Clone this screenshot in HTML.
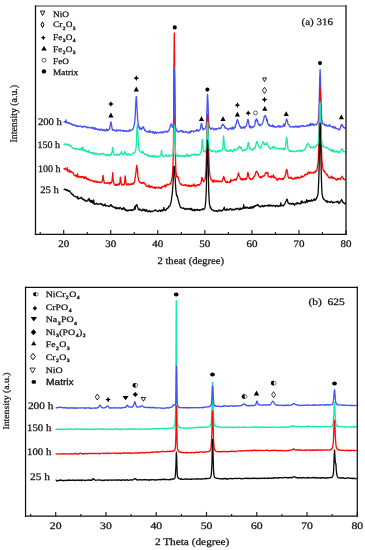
<!DOCTYPE html>
<html><head><meta charset="utf-8">
<style>
html,body{margin:0;padding:0;background:#fff;overflow:hidden;}
svg{display:block;}
text{font-family:"Liberation Serif","Times New Roman",serif;fill:#111;text-rendering:geometricPrecision;stroke:#111;stroke-width:0.25px;}
.leg{font-size:8.3px;}
.legb{font-size:8.4px;}
.sub{font-size:4.9px;stroke-width:0.35px;}
.legs{font-family:"Liberation Sans",Arial,sans-serif;font-size:9.0px;stroke-width:0.3px;}
.lab{font-size:10px;}
.tk{font-size:10px;}
.pl{font-size:9.8px;}
.cl{font-size:10px;}
</style></head>
<body>
<svg width="365" height="550" viewBox="0 0 365 550">
<rect width="365" height="550" fill="#fff"/>
<g id="curves">
<defs><clipPath id="clipov"><rect x="160" y="60" width="30" height="65"/></clipPath></defs><polyline fill="none" stroke="#4652f6" stroke-width="1.3" stroke-linejoin="round" points="63.7,121.67 64.0,122.12 64.4,121.61 64.7,121.93 65.0,121.61 65.4,121.46 65.7,122.61 66.0,119.84 66.3,122.57 66.7,121.93 67.0,122.39 67.3,122.56 67.7,123.18 68.0,123.13 68.3,122.49 68.7,122.78 69.0,122.72 69.3,123.18 69.6,123.71 70.0,123.11 70.3,123.42 70.6,123.83 71.0,124.16 71.3,123.80 71.6,124.34 72.0,124.37 72.3,124.87 72.6,124.69 73.0,124.78 73.3,124.50 73.6,125.46 73.9,125.10 74.3,125.28 74.6,125.38 74.9,124.96 75.3,125.09 75.6,125.76 75.9,126.14 76.3,125.98 76.6,126.20 76.9,125.70 77.2,126.62 77.6,126.60 77.9,125.77 78.2,125.95 78.6,126.29 78.9,126.08 79.2,126.18 79.6,126.10 79.9,126.61 80.2,126.75 80.5,126.24 80.9,126.24 81.2,126.38 81.5,126.25 81.9,126.48 82.2,126.68 82.5,127.42 82.9,126.38 83.2,126.80 83.5,126.54 83.9,126.78 84.2,126.16 84.5,126.41 84.8,126.43 85.2,126.99 85.5,126.47 85.8,126.77 86.2,127.01 86.5,127.33 86.8,127.38 87.2,127.62 87.5,127.81 87.8,127.29 88.1,126.93 88.5,127.44 88.8,127.66 89.1,127.87 89.5,127.92 89.8,127.96 90.1,127.71 90.5,127.36 90.8,127.71 91.1,127.90 91.5,127.53 91.8,127.76 92.1,127.44 92.4,128.38 92.8,127.82 93.1,128.01 93.4,128.92 93.8,128.13 94.1,127.64 94.4,127.95 94.8,129.08 95.1,129.27 95.4,128.03 95.7,128.96 96.1,129.02 96.4,128.76 96.7,129.12 97.1,129.35 97.4,129.48 97.7,129.71 98.1,128.74 98.4,129.45 98.7,129.60 99.0,129.97 99.4,130.05 99.7,129.54 100.0,129.96 100.4,130.25 100.7,129.81 101.0,128.92 101.4,129.26 101.7,129.88 102.0,129.76 102.4,129.75 102.7,130.58 103.0,130.23 103.3,130.40 103.7,130.13 104.0,129.31 104.3,130.27 104.7,130.30 105.0,130.96 105.3,130.85 105.7,130.20 106.0,129.69 106.3,130.24 106.6,128.90 107.0,130.66 107.3,130.42 107.6,130.72 108.0,129.89 108.3,129.53 108.6,129.87 109.0,129.57 109.3,129.44 109.6,128.60 110.0,126.22 110.3,124.35 110.6,122.53 110.9,121.89 111.3,123.65 111.6,125.36 111.9,127.87 112.3,129.98 112.6,129.43 112.9,129.77 113.3,130.36 113.6,130.12 113.9,129.66 114.2,129.78 114.6,130.17 114.9,130.60 115.2,130.97 115.6,131.11 115.9,131.29 116.2,130.59 116.6,129.72 116.9,130.53 117.2,130.79 117.5,130.68 117.9,130.12 118.2,130.12 118.5,130.33 118.9,130.80 119.2,130.61 119.5,130.15 119.9,130.41 120.2,130.01 120.5,130.95 120.9,130.77 121.2,130.34 121.5,130.41 121.8,130.22 122.2,130.45 122.5,130.61 122.8,131.22 123.2,131.38 123.5,130.27 123.8,130.81 124.2,131.39 124.5,131.13 124.8,130.91 125.1,130.76 125.5,130.49 125.8,131.24 126.1,131.46 126.5,131.14 126.8,131.26 127.1,130.72 127.5,131.08 127.8,131.10 128.1,131.49 128.5,131.42 128.8,130.55 129.1,130.56 129.4,129.81 129.8,129.82 130.1,131.02 130.4,130.81 130.8,130.34 131.1,130.19 131.4,130.23 131.8,130.01 132.1,129.51 132.4,129.60 132.7,129.18 133.1,128.88 133.4,128.12 133.7,126.63 134.1,125.79 134.4,124.29 134.7,121.70 135.1,117.41 135.4,111.63 135.7,105.13 136.1,96.99 136.4,96.60 136.7,101.39 137.0,108.26 137.4,115.30 137.7,119.90 138.0,123.11 138.4,125.47 138.7,127.19 139.0,127.95 139.4,126.97 139.7,128.45 140.0,129.31 140.3,128.92 140.7,128.01 141.0,128.71 141.3,129.53 141.7,128.77 142.0,127.84 142.3,128.42 142.7,128.03 143.0,126.93 143.3,127.53 143.6,126.77 144.0,128.61 144.3,128.98 144.6,130.38 145.0,130.00 145.3,129.90 145.6,131.10 146.0,131.17 146.3,131.39 146.6,131.46 147.0,131.55 147.3,132.08 147.6,131.79 147.9,131.97 148.3,131.46 148.6,131.57 148.9,132.39 149.3,132.15 149.6,130.33 149.9,132.01 150.3,131.94 150.6,131.45 150.9,131.84 151.2,131.57 151.6,132.17 151.9,132.08 152.2,132.80 152.6,131.49 152.9,132.43 153.2,132.56 153.6,131.83 153.9,132.79 154.2,133.68 154.6,133.03 154.9,132.40 155.2,132.78 155.5,131.79 155.9,132.20 156.2,133.31 156.5,132.96 156.9,132.59 157.2,132.44 157.5,132.49 157.9,132.69 158.2,132.51 158.5,132.84 158.8,132.98 159.2,132.44 159.5,132.66 159.8,132.46 160.2,132.78 160.5,132.19 160.8,132.25 161.2,131.96 161.5,132.29 161.8,132.12 162.1,131.77 162.5,132.93 162.8,132.67 163.1,132.80 163.5,132.72 163.8,132.09 164.1,131.53 164.5,131.43 164.8,131.68 165.1,131.82 165.5,131.62 165.8,131.15 166.1,130.92 166.4,131.26 166.8,132.18 167.1,132.16 167.4,131.69 167.8,131.82 168.1,131.16 168.4,131.03 168.8,130.47 169.1,129.33 169.4,128.98 169.7,128.33 170.1,127.11 170.4,125.36 170.7,124.74 171.1,123.83 171.4,123.83 171.7,124.75 172.1,125.86 172.4,127.30 172.7,126.93 173.1,126.67 173.4,125.56 173.7,118.61 174.0,95.21 174.2,78.73 174.4,68.00 174.4,67.43 174.6,78.63 174.7,89.24 175.0,116.01 175.4,125.66 175.7,128.48 176.0,128.59 176.4,129.31 176.7,130.68 177.0,131.10 177.3,131.75 177.7,131.83 178.0,131.42 178.3,131.24 178.7,131.38 179.0,131.75 179.3,131.67 179.7,131.20 180.0,131.19 180.3,131.00 180.6,131.12 181.0,130.53 181.3,130.77 181.6,130.59 182.0,132.05 182.3,131.24 182.6,131.38 183.0,130.92 183.3,131.89 183.6,132.47 184.0,132.34 184.3,132.41 184.6,132.35 184.9,132.17 185.3,131.70 185.6,131.35 185.9,131.25 186.3,131.29 186.6,132.21 186.9,132.25 187.3,132.88 187.6,132.63 187.9,132.69 188.2,132.19 188.6,132.64 188.9,132.27 189.2,133.02 189.6,131.44 189.9,131.40 190.2,132.63 190.6,132.48 190.9,131.57 191.2,131.53 191.6,130.64 191.9,131.04 192.2,131.32 192.5,131.13 192.9,131.05 193.2,131.07 193.5,131.94 193.9,131.77 194.2,131.32 194.5,131.10 194.9,130.94 195.2,130.94 195.5,130.69 195.8,131.10 196.2,131.15 196.5,130.17 196.8,130.00 197.2,129.54 197.5,130.59 197.8,130.70 198.2,131.10 198.5,130.91 198.8,130.28 199.1,130.08 199.5,130.49 199.8,129.95 200.1,129.19 200.5,129.04 200.8,125.50 201.1,125.25 201.1,123.97 201.5,124.08 201.5,123.44 201.8,124.16 201.9,124.98 202.1,125.97 202.5,128.00 202.8,129.03 203.1,129.96 203.4,129.05 203.8,128.94 204.1,129.27 204.4,129.23 204.8,128.88 205.1,128.32 205.4,127.85 205.8,127.13 206.1,126.05 206.4,123.00 206.7,115.98 207.1,106.45 207.2,100.90 207.4,96.11 207.6,94.24 207.7,95.50 207.9,100.84 208.1,103.45 208.4,114.81 208.7,121.96 209.1,125.60 209.4,127.27 209.7,127.30 210.1,128.35 210.4,128.17 210.7,128.88 211.0,129.36 211.4,128.92 211.7,128.15 212.0,128.42 212.4,128.55 212.7,128.26 213.0,128.42 213.4,128.50 213.7,129.21 214.0,129.76 214.3,130.09 214.7,129.23 215.0,129.01 215.3,129.24 215.7,128.57 216.0,128.53 216.3,129.57 216.7,129.27 217.0,128.73 217.3,128.96 217.6,128.82 218.0,128.48 218.3,128.19 218.6,127.92 219.0,128.14 219.3,128.87 219.6,128.08 220.0,128.41 220.3,128.02 220.6,128.27 221.0,128.22 221.3,127.47 221.6,126.30 221.9,125.56 222.3,124.96 222.6,124.12 222.9,125.20 223.3,125.04 223.6,124.81 223.9,125.77 224.3,125.88 224.6,126.57 224.9,127.82 225.2,128.15 225.6,127.62 225.9,127.65 226.2,128.32 226.6,128.56 226.9,128.50 227.2,128.69 227.6,128.73 227.9,129.09 228.2,129.74 228.6,129.59 228.9,129.43 229.2,128.72 229.5,128.69 229.9,128.10 230.2,128.39 230.5,128.20 230.9,128.58 231.2,128.39 231.5,129.08 231.9,128.87 232.2,126.81 232.5,128.90 232.8,128.54 233.2,129.23 233.5,127.96 233.8,127.50 234.2,128.36 234.5,127.87 234.8,126.86 235.2,127.39 235.5,125.19 235.8,124.85 236.2,124.47 236.5,122.68 236.8,120.91 237.1,120.08 237.5,119.70 237.8,120.19 238.1,121.43 238.5,122.61 238.8,123.57 239.1,124.37 239.5,124.80 239.8,126.28 240.1,126.29 240.4,127.31 240.8,126.99 241.1,128.16 241.4,128.34 241.8,127.67 242.1,127.48 242.4,127.43 242.8,128.17 243.1,127.76 243.4,127.25 243.7,127.68 244.1,126.39 244.4,127.96 244.7,128.05 245.1,127.39 245.4,127.01 245.7,126.67 246.1,126.13 246.4,125.93 246.7,124.10 247.1,122.91 247.4,121.27 247.7,119.72 248.0,119.40 248.4,120.39 248.7,122.78 249.0,124.91 249.4,126.70 249.7,127.16 250.0,127.45 250.4,125.94 250.7,127.34 251.0,127.33 251.3,128.12 251.7,127.24 252.0,127.06 252.3,126.56 252.7,127.01 253.0,127.53 253.3,126.95 253.7,126.59 254.0,126.27 254.3,126.06 254.7,125.31 255.0,124.24 255.3,120.37 255.6,121.51 256.0,120.75 256.3,118.77 256.6,119.45 257.0,120.80 257.3,121.06 257.6,120.33 258.0,123.06 258.3,123.83 258.6,124.74 258.9,124.05 259.3,125.03 259.6,125.66 259.9,125.16 260.3,125.68 260.6,125.23 260.9,124.44 261.3,124.34 261.6,124.62 261.9,124.45 262.2,123.69 262.6,122.95 262.9,122.22 263.2,120.95 263.6,120.06 263.9,118.43 264.2,116.55 264.6,116.44 264.9,115.79 265.2,115.57 265.6,115.73 265.9,117.10 266.2,117.66 266.5,119.58 266.9,121.41 267.2,119.30 267.5,122.55 267.9,123.79 268.2,123.93 268.5,125.17 268.9,124.45 269.2,124.30 269.5,125.46 269.8,126.04 270.2,125.85 270.5,125.58 270.8,125.98 271.2,126.25 271.5,125.83 271.8,126.25 272.2,126.13 272.5,124.90 272.8,126.52 273.1,126.84 273.5,125.52 273.8,126.27 274.1,126.23 274.5,127.19 274.8,126.59 275.1,126.94 275.5,126.98 275.8,126.49 276.1,126.82 276.5,126.95 276.8,127.15 277.1,126.72 277.4,126.43 277.8,126.35 278.1,126.64 278.4,125.43 278.8,126.08 279.1,126.66 279.4,127.13 279.8,127.04 280.1,125.87 280.4,126.16 280.7,127.15 281.1,126.74 281.4,126.44 281.7,126.91 282.1,126.61 282.4,126.66 282.7,125.99 283.1,125.95 283.4,126.35 283.7,123.85 284.1,126.20 284.4,126.34 284.7,125.98 285.0,125.11 285.4,123.18 285.7,122.39 286.0,121.10 286.4,119.71 286.7,118.99 287.0,120.39 287.4,120.54 287.7,122.70 288.0,123.76 288.3,124.43 288.7,124.37 289.0,125.10 289.3,125.51 289.7,125.92 290.0,126.97 290.3,126.79 290.7,127.10 291.0,127.00 291.3,126.96 291.7,126.80 292.0,126.59 292.3,126.46 292.6,126.68 293.0,127.06 293.3,127.04 293.6,126.40 294.0,127.05 294.3,126.75 294.6,127.12 295.0,127.20 295.3,126.49 295.6,126.07 295.9,125.89 296.3,125.90 296.6,126.77 296.9,127.27 297.3,126.98 297.6,127.21 297.9,127.36 298.3,126.15 298.6,126.83 298.9,126.10 299.2,127.20 299.6,126.36 299.9,126.31 300.2,126.29 300.6,126.65 300.9,125.80 301.2,125.65 301.6,125.63 301.9,125.91 302.2,125.71 302.6,126.19 302.9,126.47 303.2,126.19 303.5,125.65 303.9,126.16 304.2,126.13 304.5,126.43 304.9,126.22 305.2,126.24 305.5,126.01 305.9,126.09 306.2,126.21 306.5,125.94 306.8,125.13 307.2,125.77 307.5,125.05 307.8,125.08 308.2,126.03 308.5,125.34 308.8,125.65 309.2,124.54 309.5,125.21 309.8,124.73 310.2,125.48 310.5,125.54 310.8,123.13 311.1,125.00 311.5,124.96 311.8,124.54 312.1,124.90 312.5,123.70 312.8,123.82 313.1,124.77 313.5,125.35 313.8,125.12 314.1,124.49 314.4,125.04 314.8,124.54 315.1,124.23 315.4,124.24 315.8,124.42 316.1,124.40 316.4,124.77 316.8,124.18 317.1,123.78 317.4,123.04 317.7,122.29 318.1,120.83 318.4,119.13 318.7,114.66 319.1,105.94 319.4,93.77 319.7,78.70 320.1,69.40 320.4,75.76 320.7,89.63 321.1,102.47 321.4,111.56 321.7,118.54 322.0,120.57 322.4,122.53 322.7,123.82 323.0,123.41 323.4,123.72 323.7,124.09 324.0,123.84 324.4,124.58 324.7,124.87 325.0,125.55 325.3,125.91 325.7,125.65 326.0,124.64 326.3,124.48 326.7,125.67 327.0,125.55 327.3,126.01 327.7,125.83 328.0,126.33 328.3,126.12 328.7,125.55 329.0,125.17 329.3,124.54 329.6,125.57 330.0,126.14 330.3,126.23 330.6,125.82 331.0,126.32 331.3,126.67 331.6,126.84 332.0,126.75 332.3,127.05 332.6,127.23 332.9,126.73 333.3,127.29 333.6,126.31 333.9,128.25 334.3,128.06 334.6,128.01 334.9,127.19 335.3,126.94 335.6,127.65 335.9,128.44 336.2,128.47 336.6,128.36 336.9,128.88 337.2,128.48 337.6,128.99 337.9,129.12 338.2,129.19 338.6,129.49 338.9,129.51 339.2,129.28 339.6,129.94 339.9,128.61 340.2,128.33 340.5,127.28 340.9,126.30 341.2,125.12 341.5,124.78 341.9,124.50 342.2,124.80 342.5,126.09 342.9,126.58 343.2,126.31 343.5,127.49 343.8,127.40 344.2,127.47 344.5,127.69 344.8,128.32 345.2,127.96 345.5,127.43"/>
<polyline fill="none" stroke="#fa0808" stroke-width="1.3" stroke-linejoin="round" points="63.7,168.04 64.0,168.51 64.4,169.07 64.7,168.95 65.0,168.69 65.4,168.27 65.7,169.01 66.0,169.49 66.3,170.18 66.7,170.09 67.0,169.61 67.3,167.64 67.7,170.43 68.0,171.43 68.3,171.59 68.7,170.86 69.0,170.98 69.3,169.82 69.6,171.77 70.0,172.41 70.3,171.68 70.6,171.16 71.0,170.87 71.3,171.62 71.6,171.95 72.0,172.51 72.3,172.80 72.6,172.45 73.0,172.62 73.3,173.28 73.6,173.96 73.9,174.77 74.3,175.24 74.6,175.45 74.9,175.66 75.3,175.59 75.6,176.04 75.9,176.01 76.3,174.80 76.6,175.61 76.9,176.37 77.2,177.15 77.6,174.00 77.9,176.38 78.2,177.13 78.6,176.85 78.9,176.61 79.2,177.01 79.6,176.33 79.9,177.08 80.2,176.80 80.5,177.17 80.9,176.73 81.2,177.73 81.5,176.89 81.9,177.67 82.2,176.49 82.5,176.63 82.9,176.73 83.2,177.25 83.5,177.83 83.9,178.21 84.2,176.60 84.5,177.59 84.8,178.62 85.2,177.59 85.5,176.94 85.8,177.03 86.2,177.42 86.5,178.27 86.8,179.09 87.2,178.91 87.5,179.63 87.8,178.66 88.1,178.75 88.5,179.16 88.8,179.93 89.1,179.45 89.5,179.99 89.8,180.32 90.1,180.17 90.5,180.63 90.8,180.58 91.1,180.67 91.5,180.68 91.8,180.05 92.1,181.02 92.4,181.11 92.8,180.91 93.1,180.74 93.4,181.13 93.8,181.29 94.1,181.58 94.4,182.08 94.8,181.19 95.1,181.53 95.4,181.04 95.7,181.00 96.1,182.07 96.4,181.38 96.7,181.80 97.1,181.52 97.4,182.42 97.7,182.17 98.1,182.11 98.4,181.73 98.7,181.86 99.0,182.23 99.4,182.18 99.7,182.30 100.0,182.77 100.4,182.19 100.7,182.49 101.0,182.05 101.4,182.41 101.7,181.65 102.0,181.36 102.4,180.52 102.7,178.06 102.9,176.70 103.0,175.69 103.1,175.43 103.3,177.69 103.3,177.62 103.7,179.99 104.0,182.28 104.3,183.13 104.7,182.29 105.0,182.82 105.3,183.07 105.7,183.26 106.0,183.25 106.3,183.44 106.6,183.12 107.0,183.04 107.3,182.63 107.6,183.16 108.0,182.59 108.3,182.97 108.6,182.80 109.0,183.39 109.3,183.16 109.6,184.23 110.0,183.27 110.3,182.18 110.6,182.19 110.9,182.99 111.3,182.99 111.6,182.61 111.9,181.32 112.3,178.72 112.4,176.92 112.6,175.29 112.7,172.73 112.9,176.82 113.0,178.30 113.3,180.48 113.6,182.01 113.9,183.23 114.2,183.95 114.6,184.89 114.9,184.56 115.2,184.23 115.6,185.41 115.9,185.33 116.2,185.03 116.6,185.23 116.9,184.32 117.2,185.45 117.5,184.04 117.9,184.02 118.2,183.98 118.5,183.85 118.9,184.59 119.2,185.06 119.5,183.83 119.9,182.48 120.2,179.29 120.2,178.14 120.4,177.10 120.5,177.34 120.6,178.82 120.9,180.65 121.2,183.19 121.5,184.22 121.8,184.83 122.2,185.07 122.5,184.68 122.8,184.20 123.2,184.71 123.5,184.46 123.8,184.15 124.2,184.56 124.5,183.00 124.8,179.61 125.0,178.52 125.1,176.18 125.2,176.03 125.4,177.97 125.5,178.35 125.8,181.61 126.1,183.65 126.5,184.27 126.8,185.01 127.1,184.49 127.5,184.06 127.8,184.37 128.1,184.64 128.5,183.74 128.8,184.97 129.1,184.97 129.4,184.28 129.8,183.98 130.1,184.49 130.4,184.53 130.8,184.44 131.1,183.73 131.4,183.95 131.8,183.65 132.1,184.43 132.4,183.28 132.7,183.63 133.1,184.25 133.4,183.59 133.7,182.69 134.1,182.84 134.4,182.37 134.7,181.37 135.1,177.76 135.4,176.72 135.7,174.59 136.1,171.06 136.4,168.02 136.7,165.45 137.0,167.24 137.4,169.49 137.7,172.99 138.0,176.64 138.4,178.82 138.7,180.29 139.0,180.67 139.4,181.97 139.7,181.71 140.0,182.03 140.3,182.70 140.7,182.63 141.0,183.22 141.3,182.85 141.7,183.64 142.0,182.29 142.3,182.52 142.7,182.59 143.0,183.04 143.3,182.50 143.6,183.23 144.0,182.38 144.3,183.49 144.6,183.59 145.0,184.27 145.3,184.16 145.6,184.64 146.0,184.86 146.3,186.22 146.6,186.46 147.0,186.44 147.3,186.30 147.6,186.11 147.9,186.63 148.3,186.77 148.6,186.06 148.9,184.98 149.3,185.73 149.6,187.43 149.9,186.83 150.3,186.89 150.6,187.15 150.9,186.02 151.2,186.61 151.6,186.54 151.9,186.32 152.2,187.56 152.6,187.19 152.9,187.39 153.2,187.70 153.6,187.56 153.9,187.83 154.2,186.91 154.6,188.33 154.9,187.41 155.2,187.61 155.5,188.10 155.9,187.45 156.2,187.25 156.5,187.37 156.9,187.67 157.2,187.94 157.5,187.99 157.9,187.64 158.2,187.12 158.5,186.98 158.8,187.87 159.2,187.67 159.5,187.53 159.8,188.10 160.2,187.74 160.5,187.74 160.8,188.38 161.2,187.44 161.5,188.08 161.8,187.71 162.1,186.43 162.5,186.97 162.8,186.83 163.1,186.61 163.5,186.37 163.8,186.58 164.1,186.60 164.5,185.76 164.8,185.55 165.1,184.84 165.5,186.89 165.8,186.38 166.1,185.93 166.4,185.45 166.8,184.99 167.1,184.32 167.4,184.15 167.8,184.87 168.1,184.63 168.4,184.70 168.8,184.42 169.1,184.45 169.4,183.84 169.7,183.80 170.1,183.55 170.4,184.06 170.7,183.30 171.1,181.90 171.4,180.81 171.7,179.33 172.1,176.94 172.4,174.78 172.7,170.22 173.1,162.21 173.4,147.83 173.7,117.60 174.0,63.80 174.0,63.19 174.3,32.89 174.4,36.27 174.6,63.50 174.7,89.14 175.0,133.53 175.4,155.35 175.7,165.89 176.0,172.13 176.4,174.42 176.7,176.60 177.0,177.18 177.3,176.82 177.7,176.64 178.0,176.53 178.3,178.12 178.7,179.34 179.0,180.50 179.3,181.55 179.7,182.57 180.0,183.27 180.3,183.95 180.6,184.14 181.0,184.54 181.3,183.88 181.6,184.65 182.0,185.22 182.3,185.21 182.6,185.06 183.0,185.28 183.3,185.24 183.6,185.37 184.0,184.77 184.3,185.46 184.6,184.96 184.9,184.81 185.3,184.74 185.6,184.80 185.9,185.82 186.3,184.94 186.6,185.16 186.9,185.63 187.3,186.17 187.6,186.20 187.9,185.54 188.2,185.17 188.6,185.67 188.9,184.91 189.2,186.38 189.6,185.54 189.9,186.49 190.2,185.93 190.6,185.74 190.9,186.40 191.2,185.63 191.6,185.28 191.9,186.12 192.2,185.88 192.5,185.19 192.9,185.31 193.2,185.61 193.5,185.51 193.9,183.98 194.2,184.61 194.5,185.41 194.9,186.52 195.2,186.39 195.5,185.69 195.8,185.32 196.2,185.51 196.5,185.82 196.8,185.13 197.2,185.33 197.5,185.41 197.8,184.72 198.2,184.57 198.5,184.65 198.8,185.16 199.1,185.29 199.5,184.87 199.8,184.49 200.1,184.04 200.5,183.76 200.8,183.38 201.1,181.92 201.5,180.08 201.6,178.86 201.8,177.43 202.0,177.53 202.1,178.65 202.4,179.01 202.5,178.67 202.8,179.96 203.1,181.17 203.4,181.39 203.8,181.91 204.1,180.98 204.4,180.27 204.8,180.19 205.1,179.20 205.4,177.03 205.8,172.08 206.1,166.45 206.4,156.30 206.7,141.93 207.1,127.48 207.4,116.20 207.7,114.35 208.1,123.30 208.4,139.06 208.7,153.99 209.1,163.90 209.4,170.62 209.7,173.77 210.1,176.11 210.4,177.69 210.7,178.33 211.0,179.93 211.4,179.79 211.7,180.64 212.0,180.27 212.4,180.45 212.7,181.70 213.0,182.01 213.4,182.41 213.7,181.88 214.0,179.62 214.3,181.15 214.7,181.24 215.0,181.28 215.3,180.93 215.7,181.82 216.0,181.65 216.3,181.20 216.7,180.72 217.0,181.44 217.3,181.21 217.6,181.76 218.0,181.08 218.3,180.84 218.6,181.42 219.0,181.97 219.3,181.40 219.6,181.37 220.0,181.20 220.3,181.49 220.6,181.34 221.0,181.51 221.3,181.96 221.6,181.10 221.9,181.29 222.3,180.99 222.6,179.10 222.9,178.97 223.2,177.93 223.3,177.25 223.6,176.43 223.6,176.71 223.9,177.03 224.0,177.01 224.3,178.12 224.6,180.03 224.9,180.39 225.2,181.11 225.6,181.46 225.9,181.94 226.2,182.68 226.6,181.82 226.9,182.12 227.2,181.48 227.6,182.28 227.9,182.62 228.2,182.19 228.6,182.16 228.9,182.25 229.2,182.09 229.5,182.52 229.9,181.75 230.2,182.27 230.5,181.28 230.9,179.17 231.2,181.20 231.5,181.15 231.9,180.63 232.2,180.70 232.5,180.62 232.8,180.49 233.2,180.37 233.5,180.38 233.8,179.60 234.2,179.85 234.5,179.23 234.8,179.61 235.2,179.06 235.5,180.20 235.8,180.33 236.2,179.64 236.5,179.58 236.8,177.93 237.1,177.58 237.5,176.57 237.8,175.70 238.1,174.15 238.5,172.94 238.8,174.35 239.1,175.58 239.5,176.23 239.8,176.72 240.1,177.94 240.4,179.20 240.8,179.35 241.1,178.76 241.4,179.49 241.8,180.20 242.1,180.11 242.4,178.90 242.8,178.61 243.1,178.85 243.4,179.63 243.7,179.44 244.1,179.66 244.4,178.74 244.7,178.65 245.1,178.39 245.4,179.44 245.7,179.56 246.1,179.02 246.4,179.08 246.7,178.34 247.1,176.86 247.4,175.16 247.5,174.12 247.7,172.63 247.9,172.48 248.0,173.03 248.3,173.67 248.4,174.51 248.7,175.81 249.0,177.36 249.4,178.26 249.7,178.73 250.0,178.33 250.4,179.50 250.7,179.26 251.0,178.73 251.3,178.89 251.7,178.75 252.0,179.32 252.3,178.86 252.7,178.36 253.0,177.76 253.3,178.23 253.7,177.32 254.0,176.36 254.3,176.50 254.7,175.75 255.0,175.16 255.3,174.33 255.6,172.88 256.0,171.95 256.3,171.43 256.6,171.17 257.0,171.91 257.3,172.31 257.6,173.20 258.0,173.23 258.3,174.61 258.6,175.35 258.9,176.26 259.3,176.90 259.6,177.58 259.9,177.12 260.3,177.79 260.6,177.76 260.9,176.83 261.3,176.54 261.6,177.57 261.9,177.26 262.2,176.69 262.6,176.09 262.9,175.75 263.2,176.08 263.6,176.18 263.9,176.07 264.2,175.82 264.6,175.14 264.9,174.76 265.2,173.44 265.6,173.23 265.9,172.49 266.2,172.91 266.5,172.46 266.9,173.04 267.2,173.01 267.5,173.74 267.9,172.52 268.2,175.55 268.5,176.78 268.9,176.85 269.2,176.96 269.5,176.57 269.8,176.69 270.2,176.59 270.5,176.68 270.8,177.32 271.2,176.08 271.5,175.97 271.8,177.33 272.2,176.94 272.5,176.14 272.8,176.74 273.1,176.15 273.5,174.89 273.8,177.56 274.1,176.15 274.5,177.88 274.8,177.96 275.1,177.85 275.5,178.10 275.8,178.41 276.1,178.05 276.5,179.04 276.8,179.67 277.1,180.44 277.4,179.75 277.8,179.87 278.1,179.41 278.4,178.58 278.8,178.91 279.1,178.16 279.4,178.47 279.8,178.82 280.1,178.37 280.4,178.72 280.7,179.20 281.1,178.86 281.4,179.14 281.7,178.67 282.1,178.50 282.4,178.68 282.7,179.68 283.1,178.48 283.4,179.29 283.7,178.06 284.1,177.71 284.4,177.29 284.7,177.47 285.0,176.11 285.4,175.40 285.7,174.36 286.0,171.97 286.4,170.10 286.7,169.40 287.0,170.09 287.4,172.52 287.7,173.82 288.0,175.69 288.3,177.21 288.7,177.46 289.0,178.42 289.3,177.79 289.7,178.14 290.0,178.21 290.3,177.98 290.7,177.43 291.0,177.99 291.3,177.19 291.7,178.44 292.0,178.17 292.3,178.49 292.6,179.40 293.0,178.68 293.3,178.61 293.6,178.72 294.0,178.38 294.3,178.00 294.6,177.89 295.0,178.83 295.3,178.70 295.6,178.36 295.9,177.26 296.3,177.37 296.6,177.53 296.9,178.59 297.3,177.89 297.6,177.23 297.9,176.83 298.3,177.61 298.6,178.07 298.9,177.71 299.2,177.66 299.6,178.18 299.9,177.51 300.2,177.42 300.6,177.01 300.9,177.41 301.2,175.94 301.6,176.74 301.9,177.14 302.2,176.95 302.6,176.16 302.9,176.81 303.2,176.73 303.5,176.52 303.9,176.36 304.2,176.06 304.5,175.28 304.9,174.31 305.2,174.73 305.5,174.91 305.9,174.96 306.2,174.22 306.5,174.10 306.8,173.80 307.2,173.98 307.5,174.49 307.8,173.08 308.2,172.26 308.5,172.85 308.8,171.98 309.2,172.83 309.5,173.30 309.8,172.63 310.2,172.23 310.5,172.92 310.8,172.13 311.1,172.33 311.5,172.96 311.8,173.14 312.1,172.81 312.5,172.74 312.8,172.81 313.1,172.38 313.5,173.04 313.8,173.14 314.1,172.79 314.4,171.74 314.8,172.02 315.1,171.71 315.4,172.14 315.8,171.22 316.1,170.49 316.4,170.99 316.8,170.40 317.1,169.78 317.4,166.69 317.7,165.36 318.1,162.66 318.4,156.80 318.7,146.67 319.1,131.99 319.4,114.08 319.7,96.85 320.1,87.68 320.4,92.48 320.7,109.72 321.1,127.83 321.4,143.46 321.7,155.06 322.0,161.61 322.4,164.56 322.7,167.09 323.0,168.87 323.4,170.26 323.7,171.01 324.0,170.71 324.4,170.90 324.7,172.28 325.0,172.46 325.3,172.69 325.7,172.79 326.0,173.75 326.3,174.33 326.7,174.62 327.0,175.15 327.3,174.33 327.7,175.25 328.0,176.19 328.3,177.16 328.7,177.56 329.0,177.21 329.3,177.75 329.6,177.25 330.0,177.40 330.3,177.61 330.6,177.15 331.0,178.24 331.3,177.89 331.6,176.12 332.0,177.32 332.3,177.59 332.6,177.50 332.9,178.56 333.3,178.19 333.6,177.27 333.9,177.76 334.3,178.32 334.6,178.35 334.9,178.91 335.3,179.03 335.6,179.27 335.9,179.06 336.2,179.76 336.6,179.84 336.9,180.17 337.2,178.89 337.6,178.52 337.9,179.36 338.2,178.79 338.6,179.18 338.9,178.98 339.2,178.58 339.6,178.66 339.9,178.22 340.2,178.75 340.5,179.44 340.9,178.36 341.2,177.68 341.5,177.36 341.9,176.21 342.2,176.85 342.5,177.20 342.9,177.70 343.2,178.19 343.5,179.47 343.8,179.41 344.2,179.15 344.5,179.73 344.8,179.55 345.2,179.79 345.5,179.31"/>
<polyline fill="none" stroke="#14eba8" stroke-width="1.3" stroke-linejoin="round" points="63.7,143.76 64.0,144.42 64.4,144.22 64.7,144.31 65.0,144.08 65.4,143.82 65.7,143.84 66.0,144.45 66.3,144.69 66.7,144.56 67.0,144.81 67.3,144.02 67.7,145.15 68.0,144.80 68.3,144.27 68.7,144.88 69.0,144.90 69.3,145.63 69.6,146.04 70.0,145.33 70.3,145.14 70.6,145.59 71.0,145.88 71.3,146.46 71.6,146.72 72.0,147.42 72.3,147.71 72.6,147.97 73.0,147.97 73.3,148.30 73.6,148.58 73.9,148.27 74.3,148.57 74.6,148.62 74.9,148.50 75.3,148.50 75.6,149.32 75.9,148.69 76.3,148.49 76.6,149.40 76.9,148.84 77.2,148.76 77.6,148.67 77.9,148.88 78.2,149.07 78.6,149.65 78.9,149.85 79.2,149.91 79.6,148.73 79.9,149.09 80.2,148.92 80.5,149.60 80.9,149.59 81.2,150.23 81.5,147.76 81.9,149.41 82.2,150.10 82.5,149.41 82.9,147.21 83.2,149.98 83.5,150.06 83.9,150.81 84.2,150.22 84.5,150.14 84.8,149.40 85.2,150.42 85.5,150.71 85.8,151.51 86.2,151.22 86.5,150.78 86.8,150.88 87.2,151.65 87.5,152.16 87.8,151.89 88.1,151.32 88.5,152.21 88.8,150.39 89.1,152.21 89.5,152.12 89.8,152.60 90.1,152.11 90.5,153.17 90.8,152.45 91.1,152.64 91.5,152.88 91.8,153.54 92.1,152.31 92.4,152.63 92.8,152.36 93.1,152.32 93.4,153.23 93.8,153.75 94.1,153.30 94.4,154.48 94.8,154.13 95.1,153.94 95.4,153.67 95.7,152.93 96.1,152.92 96.4,153.73 96.7,153.66 97.1,154.51 97.4,154.69 97.7,154.29 98.1,154.06 98.4,154.01 98.7,154.37 99.0,154.65 99.4,153.63 99.7,153.89 100.0,153.50 100.4,154.25 100.7,153.88 101.0,153.77 101.4,153.72 101.7,153.92 102.0,153.83 102.4,153.92 102.7,153.40 103.0,153.88 103.3,153.96 103.7,153.51 104.0,154.14 104.3,154.52 104.7,154.76 105.0,154.76 105.3,155.29 105.7,155.02 106.0,154.97 106.3,154.82 106.6,155.19 107.0,154.29 107.3,155.15 107.6,155.97 108.0,155.02 108.3,154.82 108.6,154.40 109.0,154.81 109.3,155.23 109.6,155.74 110.0,155.59 110.3,155.42 110.6,154.31 110.9,154.04 111.3,154.31 111.6,153.06 111.9,152.80 112.3,150.97 112.4,148.93 112.6,147.42 112.7,147.64 112.9,149.01 113.0,149.17 113.3,151.55 113.6,153.35 113.9,154.17 114.2,154.94 114.6,155.28 114.9,154.99 115.2,155.18 115.6,155.21 115.9,154.90 116.2,155.04 116.6,154.97 116.9,154.20 117.2,154.30 117.5,154.46 117.9,154.04 118.2,155.10 118.5,155.21 118.9,155.09 119.2,154.71 119.5,154.48 119.9,154.74 120.2,153.71 120.5,153.44 120.9,153.36 121.1,152.49 121.2,152.35 121.4,151.44 121.5,151.54 121.7,152.22 121.8,152.65 122.2,153.26 122.5,154.15 122.8,154.44 123.2,154.61 123.5,154.84 123.8,153.92 124.2,154.12 124.5,153.86 124.8,151.54 124.9,152.66 125.1,152.92 125.2,152.51 125.5,152.42 125.5,152.85 125.8,153.17 126.1,153.28 126.5,153.80 126.8,155.00 127.1,154.89 127.5,154.62 127.8,155.14 128.1,154.41 128.5,154.23 128.8,153.75 129.1,154.06 129.4,154.77 129.8,154.32 130.1,154.48 130.4,154.95 130.8,155.07 131.1,154.83 131.4,154.72 131.8,154.29 132.1,154.11 132.4,154.05 132.7,153.96 133.1,152.95 133.4,153.09 133.7,152.97 134.1,152.83 134.4,153.03 134.7,152.67 135.1,151.27 135.4,151.28 135.7,150.48 136.1,147.42 136.4,142.33 136.7,135.05 137.0,127.29 137.4,124.95 137.7,129.85 138.0,137.01 138.4,141.90 138.7,147.44 139.0,149.64 139.4,150.62 139.7,150.95 140.0,151.40 140.3,151.93 140.7,151.92 141.0,152.19 141.3,152.97 141.7,152.89 142.0,152.20 142.3,151.33 142.7,152.09 143.0,152.49 143.3,152.24 143.6,152.86 144.0,153.95 144.3,154.29 144.6,154.02 145.0,154.04 145.3,154.39 145.6,154.47 146.0,154.46 146.3,154.26 146.6,154.67 147.0,155.30 147.3,154.28 147.6,156.01 147.9,155.51 148.3,155.27 148.6,156.02 148.9,156.46 149.3,156.01 149.6,156.43 149.9,156.57 150.3,156.59 150.6,156.24 150.9,155.60 151.2,156.10 151.6,156.56 151.9,156.31 152.2,156.85 152.6,156.10 152.9,155.38 153.2,155.33 153.6,156.40 153.9,156.64 154.2,156.67 154.6,156.13 154.9,155.37 155.2,155.82 155.5,157.24 155.9,156.67 156.2,156.63 156.5,156.97 156.9,156.87 157.2,156.74 157.5,156.24 157.9,157.03 158.2,155.88 158.5,156.59 158.8,156.73 159.2,156.61 159.5,156.30 159.8,155.97 160.2,156.06 160.5,155.98 160.8,155.12 161.2,153.49 161.3,150.65 161.5,150.91 161.6,150.40 161.8,151.81 161.8,152.01 162.1,154.24 162.5,155.12 162.8,156.12 163.1,156.25 163.5,156.76 163.8,156.96 164.1,156.29 164.5,156.33 164.8,155.89 165.1,156.06 165.5,155.50 165.8,154.71 166.1,155.00 166.4,155.67 166.8,155.54 167.1,156.27 167.4,156.46 167.8,156.69 168.1,155.70 168.4,155.29 168.8,155.06 169.1,155.63 169.4,155.83 169.7,156.57 170.1,156.13 170.4,155.62 170.7,155.75 171.1,155.17 171.4,155.33 171.7,155.68 172.1,154.79 172.4,154.68 172.7,154.63 173.1,152.15 173.4,149.06 173.7,143.57 174.0,132.87 174.1,131.06 174.4,124.86 174.4,125.07 174.7,130.35 174.7,130.65 175.0,141.14 175.4,148.88 175.7,152.79 176.0,153.89 176.4,154.85 176.7,155.29 177.0,156.51 177.3,155.80 177.7,155.64 178.0,155.84 178.3,155.30 178.7,156.11 179.0,156.49 179.3,155.92 179.7,155.44 180.0,155.87 180.3,155.95 180.6,155.59 181.0,156.18 181.3,155.66 181.6,155.59 182.0,156.05 182.3,156.53 182.6,156.02 183.0,155.35 183.3,156.06 183.6,155.90 184.0,156.36 184.3,156.05 184.6,155.87 184.9,156.78 185.3,155.71 185.6,156.44 185.9,155.44 186.3,155.32 186.6,155.48 186.9,154.33 187.3,154.02 187.6,156.05 187.9,156.48 188.2,156.01 188.6,156.22 188.9,155.35 189.2,155.76 189.6,156.38 189.9,155.32 190.2,155.84 190.6,155.33 190.9,155.22 191.2,154.07 191.6,155.07 191.9,154.90 192.2,154.80 192.5,154.92 192.9,154.51 193.2,154.92 193.5,154.18 193.9,153.87 194.2,154.92 194.5,155.16 194.9,155.11 195.2,154.80 195.5,155.04 195.8,153.81 196.2,154.48 196.5,154.75 196.8,155.04 197.2,154.55 197.5,154.71 197.8,155.40 198.2,154.80 198.5,154.75 198.8,154.73 199.1,154.77 199.5,154.58 199.8,154.53 200.1,153.72 200.5,152.70 200.8,152.15 201.1,151.46 201.5,150.18 201.8,145.63 202.0,142.04 202.1,139.94 202.3,139.52 202.5,140.22 202.6,141.65 202.8,144.80 203.1,148.12 203.4,150.61 203.8,151.43 204.1,151.69 204.4,151.51 204.8,151.49 205.1,152.13 205.4,151.08 205.8,150.13 206.1,149.23 206.4,146.73 206.7,142.71 207.1,134.52 207.3,128.11 207.4,124.15 207.6,122.04 207.7,123.11 207.9,127.11 208.1,132.22 208.4,140.40 208.7,145.29 209.1,148.82 209.4,148.95 209.7,148.91 210.1,150.67 210.4,150.32 210.7,150.83 211.0,151.06 211.4,151.63 211.7,151.50 212.0,151.28 212.4,151.22 212.7,150.55 213.0,150.76 213.4,150.62 213.7,150.83 214.0,150.76 214.3,150.99 214.7,151.41 215.0,151.55 215.3,151.46 215.7,152.02 216.0,152.36 216.3,151.86 216.7,151.52 217.0,151.24 217.3,151.94 217.6,151.64 218.0,151.87 218.3,151.12 218.6,150.12 219.0,151.25 219.3,150.57 219.6,150.97 220.0,151.51 220.3,151.04 220.6,150.96 221.0,150.70 221.3,150.81 221.6,150.65 221.9,150.41 222.3,149.51 222.6,148.88 222.9,145.95 223.3,140.34 223.3,138.94 223.6,135.93 223.6,136.05 223.9,138.37 223.9,138.85 224.3,144.70 224.6,147.85 224.9,149.12 225.2,149.87 225.6,150.50 225.9,149.65 226.2,149.65 226.6,151.01 226.9,150.78 227.2,151.02 227.6,151.15 227.9,150.59 228.2,150.45 228.6,151.13 228.9,151.27 229.2,151.33 229.5,151.42 229.9,151.21 230.2,149.52 230.5,150.61 230.9,149.80 231.2,150.40 231.5,150.48 231.9,151.26 232.2,152.05 232.5,151.11 232.8,150.51 233.2,150.32 233.5,150.14 233.8,149.91 234.2,149.00 234.5,149.73 234.8,149.88 235.2,149.70 235.5,149.94 235.8,149.77 236.2,149.09 236.5,149.21 236.8,149.78 237.1,150.00 237.5,149.27 237.8,148.48 238.1,147.77 238.5,147.98 238.8,147.49 239.1,146.54 239.5,146.09 239.8,146.68 240.1,147.66 240.4,147.98 240.8,148.37 241.1,148.65 241.4,147.23 241.8,149.99 242.1,150.12 242.4,150.62 242.8,151.08 243.1,150.96 243.4,150.80 243.7,150.37 244.1,149.63 244.4,150.63 244.7,149.98 245.1,149.43 245.4,149.78 245.7,149.74 246.1,149.46 246.4,149.33 246.7,149.27 247.1,149.00 247.4,147.75 247.7,145.27 247.9,144.30 248.0,143.17 248.3,142.64 248.4,142.58 248.7,143.08 248.7,144.04 249.0,146.31 249.4,148.22 249.7,147.45 250.0,148.94 250.4,148.94 250.7,149.11 251.0,149.16 251.3,149.79 251.7,149.60 252.0,149.96 252.3,150.06 252.7,149.49 253.0,149.89 253.3,149.24 253.7,149.07 254.0,148.32 254.3,148.91 254.7,147.75 255.0,148.32 255.3,147.80 255.6,146.64 256.0,144.49 256.3,143.14 256.6,141.73 257.0,141.43 257.3,141.83 257.6,142.79 258.0,144.77 258.3,144.78 258.6,146.11 258.9,146.47 259.3,147.50 259.6,147.35 259.9,147.64 260.3,147.90 260.6,148.28 260.9,147.33 261.3,145.73 261.6,145.50 261.9,144.60 262.2,144.05 262.6,143.01 262.9,141.93 263.2,141.71 263.6,142.02 263.9,142.71 264.2,143.45 264.6,144.82 264.9,144.44 265.2,144.95 265.6,144.80 265.9,144.53 266.2,144.36 266.5,144.02 266.9,142.42 267.2,143.76 267.5,144.34 267.9,145.50 268.2,146.39 268.5,146.78 268.9,147.41 269.2,147.42 269.5,147.93 269.8,148.65 270.2,148.51 270.5,149.05 270.8,148.83 271.2,148.46 271.5,148.20 271.8,148.09 272.2,147.93 272.5,146.54 272.8,147.53 273.1,147.99 273.5,147.69 273.8,147.30 274.1,147.61 274.5,146.64 274.8,147.45 275.1,148.43 275.5,148.35 275.8,148.60 276.1,148.60 276.5,148.60 276.8,148.58 277.1,148.13 277.4,147.91 277.8,148.40 278.1,148.43 278.4,148.60 278.8,148.16 279.1,148.47 279.4,149.20 279.8,148.98 280.1,148.47 280.4,148.42 280.7,149.00 281.1,148.31 281.4,148.36 281.7,148.11 282.1,148.42 282.4,149.54 282.7,149.07 283.1,148.84 283.4,148.92 283.7,148.42 284.1,149.53 284.4,149.03 284.7,149.33 285.0,148.31 285.4,147.13 285.7,144.47 286.0,142.22 286.4,138.18 286.7,137.46 287.0,139.25 287.4,142.51 287.7,146.26 288.0,148.89 288.3,149.40 288.7,149.99 289.0,150.23 289.3,151.22 289.7,151.68 290.0,151.23 290.3,151.29 290.7,150.97 291.0,151.19 291.3,150.62 291.7,151.64 292.0,151.35 292.3,151.45 292.6,151.08 293.0,150.52 293.3,151.30 293.6,151.23 294.0,151.69 294.3,151.71 294.6,151.68 295.0,151.74 295.3,151.86 295.6,151.62 295.9,151.32 296.3,151.48 296.6,151.27 296.9,150.67 297.3,150.70 297.6,151.01 297.9,150.24 298.3,150.33 298.6,150.72 298.9,151.11 299.2,150.64 299.6,150.67 299.9,150.52 300.2,151.39 300.6,150.79 300.9,150.08 301.2,150.72 301.6,150.53 301.9,151.11 302.2,151.26 302.6,150.15 302.9,150.33 303.2,150.61 303.5,150.67 303.9,149.96 304.2,149.98 304.5,149.97 304.9,149.21 305.2,148.96 305.5,148.34 305.9,147.67 306.2,146.29 306.5,146.03 306.8,144.80 307.2,144.29 307.5,143.84 307.8,143.11 308.2,144.16 308.5,144.58 308.8,144.43 309.2,145.27 309.5,146.09 309.8,146.36 310.2,147.24 310.5,147.00 310.8,147.74 311.1,147.03 311.5,147.44 311.8,147.80 312.1,147.46 312.5,147.73 312.8,147.25 313.1,147.24 313.5,146.78 313.8,147.30 314.1,147.16 314.4,147.91 314.8,147.65 315.1,147.59 315.4,146.88 315.8,145.66 316.1,146.33 316.4,146.19 316.8,145.23 317.1,145.34 317.4,144.71 317.7,144.58 318.1,143.81 318.4,141.52 318.7,139.11 319.1,133.54 319.4,122.51 319.7,109.84 319.7,107.87 320.1,101.88 320.1,101.82 320.4,106.76 320.5,109.34 320.7,119.89 321.1,130.78 321.4,137.88 321.7,141.78 322.0,144.46 322.4,145.59 322.7,145.69 323.0,146.20 323.4,146.39 323.7,146.04 324.0,146.93 324.4,146.99 324.7,147.23 325.0,147.20 325.3,147.51 325.7,147.54 326.0,147.86 326.3,147.72 326.7,147.75 327.0,147.65 327.3,147.74 327.7,147.86 328.0,148.34 328.3,148.56 328.7,148.54 329.0,149.44 329.3,149.64 329.6,150.01 330.0,149.81 330.3,149.99 330.6,149.96 331.0,150.82 331.3,150.84 331.6,149.45 332.0,150.43 332.3,151.79 332.6,150.97 332.9,150.59 333.3,151.13 333.6,149.97 333.9,150.89 334.3,151.69 334.6,151.45 334.9,151.46 335.3,152.23 335.6,151.77 335.9,151.17 336.2,150.77 336.6,151.78 336.9,151.88 337.2,151.56 337.6,152.22 337.9,151.82 338.2,151.82 338.6,152.32 338.9,151.68 339.2,152.33 339.6,152.70 339.9,152.89 340.2,151.93 340.5,150.89 340.9,150.55 341.2,149.93 341.5,149.50 341.9,148.37 342.2,149.11 342.5,149.77 342.9,150.07 343.2,150.71 343.5,151.73 343.8,151.69 344.2,151.87 344.5,151.78 344.8,151.69 345.2,151.46 345.5,151.77"/>
<polyline fill="none" stroke="#0a0a0a" stroke-width="1.3" stroke-linejoin="round" points="63.7,189.44 64.0,189.58 64.4,189.19 64.7,189.44 65.0,189.03 65.4,189.77 65.7,189.77 66.0,189.82 66.3,189.67 66.7,190.56 67.0,189.62 67.3,189.74 67.7,190.41 68.0,190.84 68.3,191.33 68.7,191.18 69.0,190.61 69.3,190.65 69.6,190.85 70.0,191.31 70.3,192.39 70.6,192.28 71.0,192.94 71.3,194.03 71.6,193.98 72.0,193.83 72.3,193.93 72.6,194.77 73.0,195.16 73.3,194.71 73.6,195.30 73.9,195.98 74.3,196.30 74.6,196.43 74.9,196.40 75.3,196.49 75.6,196.68 75.9,196.53 76.3,197.12 76.6,197.24 76.9,197.77 77.2,197.36 77.6,196.31 77.9,198.90 78.2,198.11 78.6,199.01 78.9,198.64 79.2,198.28 79.6,198.31 79.9,197.86 80.2,198.27 80.5,198.00 80.9,197.56 81.2,197.77 81.5,197.31 81.9,198.01 82.2,199.01 82.5,198.87 82.9,199.59 83.2,199.17 83.5,199.00 83.9,199.52 84.2,199.99 84.5,200.76 84.8,200.01 85.2,200.48 85.5,200.58 85.8,201.15 86.2,201.09 86.5,201.31 86.8,201.01 87.2,200.71 87.5,200.04 87.8,200.87 88.1,200.35 88.3,199.70 88.5,199.99 88.7,198.80 88.8,199.39 89.1,199.32 89.1,198.33 89.5,200.32 89.8,201.07 90.1,201.29 90.5,201.81 90.8,200.15 91.1,202.27 91.5,201.79 91.8,201.94 92.1,200.32 92.4,202.54 92.8,202.57 93.1,203.40 93.4,202.61 93.8,199.93 94.1,203.50 94.4,204.26 94.8,204.35 95.1,203.82 95.4,203.89 95.7,203.74 96.1,203.95 96.4,203.51 96.7,203.15 97.1,204.17 97.4,203.76 97.7,204.21 98.1,204.41 98.4,204.49 98.7,204.05 99.0,204.03 99.4,204.09 99.7,203.72 100.0,203.41 100.4,203.91 100.7,203.56 101.0,203.59 101.4,204.62 101.7,203.89 102.0,204.48 102.4,204.85 102.7,204.55 103.0,205.40 103.3,205.91 103.7,205.28 104.0,205.25 104.3,204.72 104.7,205.23 105.0,203.92 105.3,205.62 105.7,205.74 106.0,206.17 106.3,205.88 106.6,205.68 107.0,205.70 107.3,205.61 107.6,205.85 108.0,206.05 108.3,206.25 108.6,206.43 109.0,206.57 109.3,206.43 109.6,205.71 110.0,205.97 110.3,205.72 110.6,204.98 110.9,204.58 111.3,204.97 111.6,206.06 111.9,206.22 112.3,206.02 112.6,206.91 112.9,206.51 113.3,206.88 113.6,206.94 113.9,207.41 114.2,207.40 114.6,207.47 114.9,207.80 115.2,207.28 115.6,208.47 115.9,207.15 116.2,208.09 116.6,208.36 116.9,208.89 117.2,208.75 117.5,207.74 117.9,208.01 118.2,207.95 118.5,208.31 118.9,207.90 119.2,208.90 119.5,208.34 119.9,207.41 120.2,207.38 120.5,207.89 120.9,208.26 121.2,208.80 121.5,208.84 121.8,209.51 122.2,208.33 122.5,209.08 122.8,208.44 123.2,208.57 123.5,208.84 123.8,207.37 124.2,209.70 124.5,209.21 124.8,208.83 125.1,209.78 125.5,209.42 125.8,210.67 126.1,210.09 126.5,210.32 126.8,209.92 127.1,211.15 127.5,210.76 127.8,210.29 128.1,210.58 128.5,210.75 128.8,210.46 129.1,209.85 129.4,210.21 129.8,209.85 130.1,210.32 130.4,210.10 130.8,210.64 131.1,210.33 131.4,209.70 131.8,210.58 132.1,210.05 132.4,210.39 132.7,209.82 133.1,209.88 133.4,210.00 133.7,209.23 134.1,209.57 134.4,209.42 134.7,206.72 135.1,209.35 135.4,207.66 135.7,205.60 136.1,205.84 136.4,205.39 136.7,204.61 137.0,204.79 137.4,206.35 137.7,207.52 138.0,208.22 138.4,209.60 138.7,209.89 139.0,209.81 139.4,210.05 139.7,208.91 140.0,209.89 140.3,209.68 140.7,209.39 141.0,209.82 141.3,210.48 141.7,210.93 142.0,210.60 142.3,210.67 142.7,210.08 143.0,208.92 143.3,210.27 143.6,210.12 144.0,210.04 144.3,210.35 144.6,209.39 145.0,209.65 145.3,211.35 145.6,211.18 146.0,211.06 146.3,211.05 146.6,209.68 147.0,210.10 147.3,210.92 147.6,211.60 147.9,211.89 148.3,211.68 148.6,211.06 148.9,210.67 149.3,210.47 149.6,211.39 149.9,211.21 150.3,211.99 150.6,211.09 150.9,211.43 151.2,210.97 151.6,211.61 151.9,211.68 152.2,211.43 152.6,211.48 152.9,211.31 153.2,210.86 153.6,210.81 153.9,210.94 154.2,210.94 154.6,210.76 154.9,209.90 155.2,210.17 155.5,209.93 155.9,210.53 156.2,210.67 156.5,210.70 156.9,210.95 157.2,211.29 157.5,211.02 157.9,211.03 158.2,211.57 158.5,210.85 158.8,210.86 159.2,210.15 159.5,210.40 159.8,210.41 160.2,210.71 160.5,211.63 160.8,210.47 161.2,210.77 161.5,209.95 161.8,210.48 162.1,210.62 162.5,210.96 162.8,210.29 163.1,209.45 163.5,210.12 163.8,207.42 164.1,209.93 164.5,209.24 164.8,210.17 165.1,210.49 165.5,209.90 165.8,210.19 166.1,209.65 166.4,209.70 166.8,208.49 167.1,208.18 167.4,208.48 167.8,208.40 168.1,207.62 168.4,207.56 168.8,206.28 169.1,206.53 169.4,206.20 169.7,206.11 170.1,205.51 170.4,204.51 170.7,203.11 171.1,201.99 171.4,200.43 171.7,196.89 172.1,195.38 172.4,192.18 172.7,188.02 173.1,182.39 173.4,176.00 173.7,170.96 174.0,166.25 174.4,166.57 174.7,170.41 175.0,176.69 175.4,182.31 175.7,187.24 176.0,191.37 176.4,194.14 176.7,195.77 177.0,195.08 177.3,196.65 177.7,197.62 178.0,199.41 178.3,200.03 178.7,201.65 179.0,203.40 179.3,203.49 179.7,205.10 180.0,205.99 180.3,206.70 180.6,207.57 181.0,207.39 181.3,207.87 181.6,207.83 182.0,208.03 182.3,208.21 182.6,208.30 183.0,208.58 183.3,207.82 183.6,208.47 184.0,208.33 184.3,208.42 184.6,209.09 184.9,208.51 185.3,209.61 185.6,209.30 185.9,209.02 186.3,209.13 186.6,209.11 186.9,208.36 187.3,208.78 187.6,209.27 187.9,209.00 188.2,209.19 188.6,208.95 188.9,209.37 189.2,209.08 189.6,208.45 189.9,208.29 190.2,209.17 190.6,209.30 190.9,209.81 191.2,209.76 191.6,208.39 191.9,208.84 192.2,209.88 192.5,210.06 192.9,210.72 193.2,210.04 193.5,210.01 193.9,210.40 194.2,209.52 194.5,209.37 194.9,210.93 195.2,209.99 195.5,210.06 195.8,209.68 196.2,209.71 196.5,209.94 196.8,209.11 197.2,209.79 197.5,209.59 197.8,210.29 198.2,209.86 198.5,209.94 198.8,210.47 199.1,210.17 199.5,209.79 199.8,210.56 200.1,209.77 200.5,209.62 200.8,209.75 201.1,209.64 201.5,209.37 201.8,209.54 202.1,209.72 202.5,208.88 202.8,209.16 203.1,209.10 203.4,209.46 203.8,209.01 204.1,209.07 204.4,208.71 204.8,208.13 205.1,206.94 205.4,204.23 205.8,200.14 206.1,195.34 206.4,185.63 206.7,170.72 207.1,153.30 207.4,140.40 207.7,144.28 208.1,160.54 208.4,176.97 208.7,190.59 209.1,198.99 209.4,203.13 209.7,205.30 210.1,206.33 210.4,208.02 210.7,207.22 211.0,208.05 211.4,208.86 211.7,209.47 212.0,209.99 212.4,209.81 212.7,210.08 213.0,210.01 213.4,210.63 213.7,210.81 214.0,210.75 214.3,210.66 214.7,211.14 215.0,211.04 215.3,210.85 215.7,210.75 216.0,210.62 216.3,210.70 216.7,211.24 217.0,210.94 217.3,211.23 217.6,211.72 218.0,210.77 218.3,210.44 218.6,210.16 219.0,210.25 219.3,210.78 219.6,210.08 220.0,210.87 220.3,210.36 220.6,210.23 221.0,210.60 221.3,211.15 221.6,210.56 221.9,210.54 222.3,210.27 222.6,210.47 222.9,210.22 223.3,209.42 223.6,209.30 223.6,208.85 223.9,208.09 224.0,208.04 224.3,207.07 224.4,208.16 224.6,209.26 224.9,209.90 225.2,210.24 225.6,210.02 225.9,209.43 226.2,210.36 226.6,208.80 226.9,208.90 227.2,209.09 227.6,209.84 227.9,209.66 228.2,209.77 228.6,209.55 228.9,210.11 229.2,209.70 229.5,209.19 229.9,208.81 230.2,208.68 230.5,208.87 230.9,208.71 231.2,209.08 231.5,210.13 231.9,209.81 232.2,209.82 232.5,210.14 232.8,209.20 233.2,209.58 233.5,209.18 233.8,209.42 234.2,209.81 234.5,209.82 234.8,209.41 235.2,209.60 235.5,209.11 235.8,208.59 236.2,209.06 236.5,208.89 236.8,208.13 237.1,208.55 237.5,208.77 237.8,208.48 238.1,209.03 238.5,209.05 238.8,208.94 239.1,209.95 239.5,209.43 239.8,208.71 240.1,207.89 240.4,209.25 240.8,209.14 241.1,209.33 241.4,208.95 241.8,208.63 242.1,208.56 242.4,207.87 242.8,208.57 243.1,208.48 243.4,208.33 243.7,204.73 244.1,208.42 244.4,207.92 244.7,207.21 245.1,206.97 245.4,207.82 245.7,208.26 246.1,207.99 246.4,207.45 246.7,207.18 247.1,207.00 247.4,207.50 247.7,207.70 248.0,208.49 248.4,208.01 248.7,208.19 249.0,208.31 249.4,207.27 249.7,207.77 250.0,207.98 250.4,207.93 250.7,208.20 251.0,206.63 251.3,207.58 251.7,208.26 252.0,207.25 252.3,206.99 252.7,206.59 253.0,206.86 253.3,207.76 253.7,207.36 254.0,206.25 254.3,206.44 254.7,206.63 255.0,205.35 255.3,206.24 255.6,205.80 256.0,205.84 256.3,205.63 256.6,205.17 257.0,205.10 257.3,204.89 257.6,205.26 258.0,204.58 258.3,205.45 258.6,206.02 258.9,205.73 259.3,206.33 259.6,206.44 259.9,206.70 260.3,206.85 260.6,207.14 260.9,206.32 261.3,205.83 261.6,206.23 261.9,206.20 262.2,206.19 262.6,205.47 262.9,206.40 263.2,206.73 263.6,206.11 263.9,205.94 264.2,205.31 264.6,205.34 264.9,206.25 265.2,205.87 265.6,206.01 265.9,205.79 266.2,205.61 266.5,205.52 266.9,205.44 267.2,205.78 267.5,205.31 267.9,205.77 268.2,205.31 268.5,205.86 268.9,206.13 269.2,204.72 269.5,205.67 269.8,205.40 270.2,206.02 270.5,205.62 270.8,205.19 271.2,205.83 271.5,205.42 271.8,205.27 272.2,205.81 272.5,205.74 272.8,206.11 273.1,205.49 273.5,205.65 273.8,205.38 274.1,205.45 274.5,205.77 274.8,205.73 275.1,206.15 275.5,206.70 275.8,205.74 276.1,205.40 276.5,205.77 276.8,205.65 277.1,205.32 277.4,206.27 277.8,206.34 278.1,206.55 278.4,206.54 278.8,205.88 279.1,205.91 279.4,205.45 279.8,205.71 280.1,206.17 280.4,205.95 280.7,202.99 281.1,204.67 281.4,205.71 281.7,205.78 282.1,205.67 282.4,205.69 282.7,205.27 283.1,205.96 283.4,205.98 283.7,205.12 284.1,204.77 284.4,204.63 284.7,204.33 285.0,203.60 285.4,202.59 285.7,201.53 286.0,201.27 286.4,200.17 286.7,199.16 287.0,199.28 287.4,199.69 287.7,201.37 288.0,202.82 288.3,203.11 288.7,202.92 289.0,203.16 289.3,204.05 289.7,204.15 290.0,203.84 290.3,203.47 290.7,203.63 291.0,203.61 291.3,203.97 291.7,203.77 292.0,204.06 292.3,203.15 292.6,203.49 293.0,203.59 293.3,203.98 293.6,203.69 294.0,204.76 294.3,204.37 294.6,205.25 295.0,203.93 295.3,203.83 295.6,203.93 295.9,203.33 296.3,203.64 296.6,204.10 296.9,203.71 297.3,202.59 297.6,203.48 297.9,202.94 298.3,203.39 298.6,203.55 298.9,203.38 299.2,203.62 299.6,203.68 299.9,204.01 300.2,203.90 300.6,202.89 300.9,202.56 301.2,201.06 301.6,203.11 301.9,201.25 302.2,201.19 302.6,202.20 302.9,202.82 303.2,202.56 303.5,202.67 303.9,202.22 304.2,201.85 304.5,201.95 304.9,201.81 305.2,203.16 305.5,202.09 305.9,202.36 306.2,201.50 306.5,199.55 306.8,200.67 307.2,201.05 307.5,202.42 307.8,200.94 308.2,200.34 308.5,201.09 308.8,201.19 309.2,201.38 309.5,201.09 309.8,200.34 310.2,201.04 310.5,201.25 310.8,201.09 311.1,200.69 311.5,199.69 311.8,200.73 312.1,200.67 312.5,200.38 312.8,201.03 313.1,200.40 313.5,200.05 313.8,199.58 314.1,198.77 314.4,199.76 314.8,200.27 315.1,200.44 315.4,199.77 315.8,199.24 316.1,198.36 316.4,198.87 316.8,197.15 317.1,197.18 317.4,196.63 317.7,194.87 318.1,193.21 318.4,188.13 318.7,180.87 319.1,168.50 319.4,151.80 319.7,133.01 320.1,123.16 320.4,129.88 320.7,147.67 321.1,165.40 321.4,178.62 321.7,187.28 322.0,192.83 322.4,195.37 322.7,197.46 323.0,197.66 323.4,198.98 323.7,198.78 324.0,199.62 324.4,199.74 324.7,199.99 325.0,200.29 325.3,200.91 325.7,200.89 326.0,201.19 326.3,200.94 326.7,202.02 327.0,200.69 327.3,201.89 327.7,202.19 328.0,201.41 328.3,201.57 328.7,201.57 329.0,201.61 329.3,202.06 329.6,202.28 330.0,202.31 330.3,202.48 330.6,201.60 331.0,201.40 331.3,201.16 331.6,201.66 332.0,202.14 332.3,201.96 332.6,202.99 332.9,202.56 333.3,202.26 333.6,202.09 333.9,202.63 334.3,202.48 334.6,202.29 334.9,202.22 335.3,202.12 335.6,202.13 335.9,202.16 336.2,202.05 336.6,201.86 336.9,201.33 337.2,202.08 337.6,201.65 337.9,201.11 338.2,202.14 338.6,202.82 338.9,203.30 339.2,202.28 339.6,203.17 339.9,202.38 340.2,201.82 340.5,201.13 340.9,200.74 341.2,200.38 341.5,199.46 341.9,200.64 342.2,200.32 342.5,202.08 342.9,202.18 343.2,202.83 343.5,202.23 343.8,202.90 344.2,203.22 344.5,203.47 344.8,204.00 345.2,202.86 345.5,203.47"/>
<g clip-path="url(#clipov)"><polyline fill="none" stroke="#4652f6" stroke-width="1.1" stroke-linejoin="round" points="171.7,124.75 172.1,125.86 172.4,127.30 172.7,126.93 173.1,126.67 173.4,125.56 173.7,118.61 174.0,95.21 174.2,78.73 174.4,68.00 174.4,67.43 174.6,78.63 174.7,89.24 175.0,116.01 175.4,125.66 175.7,128.48 176.0,128.59 176.4,129.31 176.7,130.68 177.0,131.10 177.3,131.75"/></g>
<polyline fill="none" stroke="#14eba8" stroke-width="1.3" stroke-linejoin="round" points="55.7,429.32 56.0,429.47 56.4,429.20 56.7,429.06 57.0,429.20 57.4,429.48 57.7,429.39 58.0,429.11 58.3,429.04 58.7,429.12 59.0,429.32 59.3,429.26 59.7,429.17 60.0,429.16 60.3,429.21 60.7,429.09 61.0,429.16 61.3,429.23 61.6,429.47 62.0,429.32 62.3,429.41 62.6,429.14 63.0,429.31 63.3,429.28 63.6,429.16 64.0,429.18 64.3,429.34 64.6,429.22 64.9,429.37 65.3,429.52 65.6,429.60 65.9,429.64 66.3,429.20 66.6,429.26 66.9,429.12 67.3,429.32 67.6,429.27 67.9,429.27 68.2,429.31 68.6,429.16 68.9,429.20 69.2,429.09 69.6,429.48 69.9,429.26 70.2,429.23 70.6,428.94 70.9,428.86 71.2,428.92 71.5,429.20 71.9,429.33 72.2,429.31 72.5,429.15 72.9,429.47 73.2,429.17 73.5,429.06 73.9,429.22 74.2,429.06 74.5,429.18 74.8,429.35 75.2,429.26 75.5,429.30 75.8,429.25 76.2,429.12 76.5,428.67 76.8,428.78 77.2,429.01 77.5,428.86 77.8,428.96 78.2,429.13 78.5,429.38 78.8,429.07 79.1,429.06 79.5,429.18 79.8,429.28 80.1,429.02 80.5,429.42 80.8,429.17 81.1,429.36 81.5,429.25 81.8,429.29 82.1,429.51 82.4,429.46 82.8,429.34 83.1,429.11 83.4,429.06 83.8,428.92 84.1,429.40 84.4,429.05 84.8,428.73 85.1,429.25 85.4,429.43 85.7,429.25 86.1,429.36 86.4,429.15 86.7,429.09 87.1,429.23 87.4,429.28 87.7,429.17 88.1,429.45 88.4,429.43 88.7,429.33 89.0,429.08 89.4,429.17 89.7,429.14 90.0,429.17 90.4,429.32 90.7,429.17 91.0,429.23 91.4,429.34 91.7,429.33 92.0,429.62 92.3,429.12 92.7,429.16 93.0,429.00 93.3,429.10 93.7,429.56 94.0,429.11 94.3,429.11 94.7,429.27 95.0,429.25 95.3,429.37 95.6,429.03 96.0,429.28 96.3,429.09 96.6,428.96 97.0,429.19 97.3,429.27 97.6,429.12 98.0,429.04 98.3,429.10 98.6,429.16 99.0,429.16 99.3,429.02 99.6,428.75 99.9,429.21 100.3,429.23 100.6,429.02 100.9,428.87 101.3,428.94 101.6,429.02 101.9,428.78 102.3,429.24 102.6,429.29 102.9,429.19 103.2,429.25 103.6,429.26 103.9,429.40 104.2,429.32 104.6,429.45 104.9,429.56 105.2,429.31 105.6,429.18 105.9,429.05 106.2,429.10 106.5,429.04 106.9,429.13 107.2,429.22 107.5,429.30 107.9,429.06 108.2,429.31 108.5,429.20 108.9,429.18 109.2,429.11 109.5,428.84 109.8,429.08 110.2,428.86 110.5,429.23 110.8,429.22 111.2,429.46 111.5,429.42 111.8,429.41 112.2,429.52 112.5,429.34 112.8,429.51 113.1,429.32 113.5,429.29 113.8,429.14 114.1,429.26 114.5,429.33 114.8,429.18 115.1,428.99 115.5,429.10 115.8,429.22 116.1,429.18 116.4,429.04 116.8,429.01 117.1,429.07 117.4,428.72 117.8,428.89 118.1,429.29 118.4,429.04 118.8,429.09 119.1,429.42 119.4,429.41 119.8,429.44 120.1,429.28 120.4,429.03 120.7,429.58 121.1,429.42 121.4,429.34 121.7,429.52 122.1,429.47 122.4,429.33 122.7,429.08 123.1,429.12 123.4,429.14 123.7,429.06 124.0,429.00 124.4,428.95 124.7,429.07 125.0,429.04 125.4,429.19 125.7,429.36 126.0,429.32 126.4,429.26 126.7,429.47 127.0,429.42 127.3,429.06 127.7,429.02 128.0,429.15 128.3,429.04 128.7,429.24 129.0,428.94 129.3,428.78 129.7,429.16 130.0,429.27 130.3,428.98 130.6,429.11 131.0,429.37 131.3,429.10 131.6,428.96 132.0,428.89 132.3,428.90 132.6,428.78 133.0,428.93 133.3,428.84 133.6,429.04 133.9,429.47 134.3,429.14 134.6,429.30 134.9,429.42 135.3,428.91 135.6,429.07 135.9,429.12 136.3,429.08 136.6,429.25 136.9,429.12 137.2,429.19 137.6,429.10 137.9,429.10 138.2,428.99 138.6,429.43 138.9,429.25 139.2,429.00 139.6,429.37 139.9,429.47 140.2,429.24 140.5,429.05 140.9,428.95 141.2,429.22 141.5,429.09 141.9,428.96 142.2,429.15 142.5,429.05 142.9,429.04 143.2,429.35 143.5,429.31 143.9,429.35 144.2,429.24 144.5,429.32 144.8,429.12 145.2,429.20 145.5,429.25 145.8,429.04 146.2,428.80 146.5,428.97 146.8,428.95 147.2,429.04 147.5,428.89 147.8,429.00 148.1,429.11 148.5,429.38 148.8,429.40 149.1,429.19 149.5,429.25 149.8,428.95 150.1,429.09 150.5,428.99 150.8,429.13 151.1,429.03 151.4,428.89 151.8,428.74 152.1,428.99 152.4,428.90 152.8,428.96 153.1,428.95 153.4,428.53 153.8,428.76 154.1,428.71 154.4,428.80 154.7,428.85 155.1,428.50 155.4,428.58 155.7,428.65 156.1,428.75 156.4,428.88 156.7,428.67 157.1,428.64 157.4,428.76 157.7,428.42 158.0,428.85 158.4,428.59 158.7,428.83 159.0,428.75 159.4,428.98 159.7,428.95 160.0,428.76 160.4,428.41 160.7,428.53 161.0,428.62 161.3,428.68 161.7,428.42 162.0,428.37 162.3,428.35 162.7,428.50 163.0,428.39 163.3,428.45 163.7,428.64 164.0,428.50 164.3,428.72 164.7,428.65 165.0,428.52 165.3,428.67 165.6,428.64 166.0,428.50 166.3,428.38 166.6,428.41 167.0,428.47 167.3,428.62 167.6,428.55 168.0,428.36 168.3,428.16 168.6,428.31 168.9,428.39 169.3,428.54 169.6,428.32 169.9,428.09 170.3,428.31 170.6,428.23 170.9,428.01 171.3,428.34 171.6,428.33 171.9,428.16 172.2,428.07 172.6,427.81 172.9,427.88 173.2,427.58 173.6,427.29 173.9,426.96 174.2,426.33 174.6,425.84 174.9,424.73 175.2,422.02 175.5,413.50 175.9,379.09 176.1,323.81 176.2,308.31 176.3,300.72 176.5,323.46 176.5,337.95 176.9,399.63 177.2,418.46 177.5,423.42 177.9,425.00 178.2,426.02 178.5,426.61 178.8,426.88 179.2,427.40 179.5,427.32 179.8,427.38 180.2,427.56 180.5,427.66 180.8,427.99 181.2,427.89 181.5,428.03 181.8,427.96 182.1,428.21 182.5,428.13 182.8,428.15 183.1,427.86 183.5,428.11 183.8,428.01 184.1,428.21 184.5,428.24 184.8,428.26 185.1,428.36 185.4,428.28 185.8,428.05 186.1,428.11 186.4,428.13 186.8,427.92 187.1,428.11 187.4,428.33 187.8,428.22 188.1,428.15 188.4,428.17 188.8,428.27 189.1,428.05 189.4,428.18 189.7,427.96 190.1,428.06 190.4,428.09 190.7,427.81 191.1,427.99 191.4,427.99 191.7,427.68 192.1,427.73 192.4,427.71 192.7,427.65 193.0,427.83 193.4,427.70 193.7,427.77 194.0,427.61 194.4,427.66 194.7,428.00 195.0,427.93 195.4,427.57 195.7,427.49 196.0,427.58 196.3,427.37 196.7,427.68 197.0,427.65 197.3,427.62 197.7,427.61 198.0,427.49 198.3,427.35 198.7,426.96 199.0,427.01 199.3,427.32 199.6,427.52 200.0,427.46 200.3,427.17 200.6,427.26 201.0,427.35 201.3,427.17 201.6,427.51 202.0,427.25 202.3,427.30 202.6,427.14 202.9,427.38 203.3,427.13 203.6,427.07 203.9,427.35 204.3,427.08 204.6,427.07 204.9,427.22 205.3,427.25 205.6,426.91 205.9,427.12 206.2,427.05 206.6,427.25 206.9,426.84 207.2,427.03 207.6,427.04 207.9,426.88 208.2,426.76 208.6,426.78 208.9,426.56 209.2,426.43 209.6,426.19 209.9,426.08 210.2,425.89 210.5,425.11 210.9,424.45 211.2,422.94 211.5,419.27 211.9,410.15 212.2,395.54 212.3,390.15 212.5,382.61 212.6,381.91 212.9,388.11 212.9,390.12 213.2,403.67 213.5,415.82 213.8,421.85 214.2,424.07 214.5,425.04 214.8,425.59 215.2,425.77 215.5,425.99 215.8,426.40 216.2,426.72 216.5,426.73 216.8,426.66 217.1,426.63 217.5,426.72 217.8,426.98 218.1,427.02 218.5,426.81 218.8,426.77 219.1,427.01 219.5,427.11 219.8,427.40 220.1,427.49 220.4,427.33 220.8,427.13 221.1,427.19 221.4,427.00 221.8,427.00 222.1,427.26 222.4,427.33 222.8,427.41 223.1,427.55 223.4,427.30 223.7,427.38 224.1,427.30 224.4,427.31 224.7,427.30 225.1,427.35 225.4,427.06 225.7,426.94 226.1,427.12 226.4,427.26 226.7,427.17 227.1,427.19 227.4,427.00 227.7,427.28 228.0,427.34 228.4,427.52 228.7,427.31 229.0,427.26 229.4,427.26 229.7,427.47 230.0,427.44 230.4,427.40 230.7,427.06 231.0,427.03 231.3,426.92 231.7,427.07 232.0,427.31 232.3,427.28 232.7,427.12 233.0,427.52 233.3,427.20 233.7,427.45 234.0,427.52 234.3,427.42 234.6,427.54 235.0,427.21 235.3,427.14 235.6,427.16 236.0,427.27 236.3,427.23 236.6,427.51 237.0,427.31 237.3,427.24 237.6,427.05 237.9,427.24 238.3,427.37 238.6,427.18 238.9,427.02 239.3,426.93 239.6,427.29 239.9,427.39 240.3,427.36 240.6,427.42 240.9,427.40 241.2,427.39 241.6,427.05 241.9,427.24 242.2,427.36 242.6,427.48 242.9,427.50 243.2,427.25 243.6,427.29 243.9,427.04 244.2,427.38 244.5,427.09 244.9,427.28 245.2,427.14 245.5,427.06 245.9,427.02 246.2,427.09 246.5,427.23 246.9,427.41 247.2,427.27 247.5,427.39 247.8,427.44 248.2,427.66 248.5,427.33 248.8,427.33 249.2,427.39 249.5,427.33 249.8,427.37 250.2,427.19 250.5,427.16 250.8,427.10 251.2,427.07 251.5,427.02 251.8,427.12 252.1,426.98 252.5,427.03 252.8,427.23 253.1,426.98 253.5,426.95 253.8,427.04 254.1,426.97 254.5,426.95 254.8,427.40 255.1,427.35 255.4,427.21 255.8,427.10 256.1,426.92 256.4,426.90 256.8,426.71 257.1,427.08 257.4,427.07 257.8,427.30 258.1,427.25 258.4,426.92 258.7,427.38 259.1,427.37 259.4,427.43 259.7,427.22 260.1,427.13 260.4,427.15 260.7,427.47 261.1,427.13 261.4,427.00 261.7,427.20 262.0,426.89 262.4,427.30 262.7,427.07 263.0,427.33 263.4,427.24 263.7,427.17 264.0,427.01 264.4,427.35 264.7,427.23 265.0,427.00 265.3,427.22 265.7,427.19 266.0,427.28 266.3,427.17 266.7,427.25 267.0,427.30 267.3,427.25 267.7,426.96 268.0,427.17 268.3,427.41 268.6,427.36 269.0,427.42 269.3,427.42 269.6,427.25 270.0,427.39 270.3,427.25 270.6,427.06 271.0,426.94 271.3,427.24 271.6,427.33 272.0,427.36 272.3,427.18 272.6,426.90 272.9,427.19 273.3,427.18 273.6,427.09 273.9,427.05 274.3,427.04 274.6,426.83 274.9,427.13 275.3,427.27 275.6,427.37 275.9,427.21 276.2,427.00 276.6,426.89 276.9,427.01 277.2,427.38 277.6,427.42 277.9,427.30 278.2,427.31 278.6,427.37 278.9,427.28 279.2,427.26 279.5,427.25 279.9,427.12 280.2,426.98 280.5,427.00 280.9,427.28 281.2,426.98 281.5,427.02 281.9,427.04 282.2,427.12 282.5,427.08 282.8,427.26 283.2,427.16 283.5,427.17 283.8,427.28 284.2,427.00 284.5,427.27 284.8,427.38 285.2,427.05 285.5,427.10 285.8,427.01 286.1,427.03 286.5,427.21 286.8,426.87 287.1,427.13 287.5,427.18 287.8,427.12 288.1,427.43 288.5,427.13 288.8,426.82 289.1,426.96 289.4,426.96 289.8,426.80 290.1,426.45 290.4,426.26 290.8,426.67 291.1,426.26 291.4,426.43 291.8,426.30 292.1,425.67 292.4,425.69 292.8,425.76 293.1,425.91 293.4,426.11 293.7,426.28 294.1,426.24 294.4,426.26 294.7,426.32 295.1,426.50 295.4,426.38 295.7,426.31 296.1,426.82 296.4,426.84 296.7,426.86 297.0,426.67 297.4,426.48 297.7,426.46 298.0,426.39 298.4,426.39 298.7,426.24 299.0,426.51 299.4,426.59 299.7,426.70 300.0,426.64 300.3,426.49 300.7,426.85 301.0,426.85 301.3,426.79 301.7,426.81 302.0,426.63 302.3,426.72 302.7,426.52 303.0,426.71 303.3,426.79 303.6,426.81 304.0,426.75 304.3,426.68 304.6,426.66 305.0,426.74 305.3,426.58 305.6,426.70 306.0,426.76 306.3,426.47 306.6,426.27 306.9,426.50 307.3,426.50 307.6,426.43 307.9,426.33 308.3,426.30 308.6,426.21 308.9,426.37 309.3,426.26 309.6,426.18 309.9,426.40 310.2,426.75 310.6,426.87 310.9,426.70 311.2,426.72 311.6,426.63 311.9,426.60 312.2,426.49 312.6,426.57 312.9,426.43 313.2,426.43 313.6,426.51 313.9,426.57 314.2,426.93 314.5,426.63 314.9,426.46 315.2,426.66 315.5,426.74 315.9,426.80 316.2,426.70 316.5,426.43 316.9,426.50 317.2,426.38 317.5,426.52 317.8,426.87 318.2,426.71 318.5,426.70 318.8,426.85 319.2,426.54 319.5,426.73 319.8,426.64 320.2,426.55 320.5,426.56 320.8,426.47 321.1,426.72 321.5,426.71 321.8,426.62 322.1,426.73 322.5,426.47 322.8,426.15 323.1,426.65 323.5,426.58 323.8,426.75 324.1,426.57 324.4,426.35 324.8,426.36 325.1,426.68 325.4,426.74 325.8,426.60 326.1,426.75 326.4,426.66 326.8,426.68 327.1,426.50 327.4,426.22 327.7,426.46 328.1,426.65 328.4,426.48 328.7,426.79 329.1,426.71 329.4,426.89 329.7,426.77 330.1,426.79 330.4,426.53 330.7,426.18 331.0,426.55 331.4,426.50 331.7,426.28 332.0,425.79 332.4,425.63 332.7,424.85 333.0,423.86 333.4,421.56 333.7,416.87 334.0,409.62 334.1,406.81 334.4,403.28 334.5,402.32 334.7,403.88 334.9,406.76 335.0,410.25 335.3,416.86 335.7,421.77 336.0,423.90 336.3,425.21 336.7,425.71 337.0,426.14 337.3,426.25 337.7,426.39 338.0,426.39 338.3,426.54 338.6,426.39 339.0,426.68 339.3,426.40 339.6,426.48 340.0,426.55 340.3,426.67 340.6,426.70 341.0,426.59 341.3,426.71 341.6,426.33 341.9,426.48 342.3,426.66 342.6,426.65 342.9,426.91 343.3,426.85 343.6,426.93 343.9,426.72 344.3,426.95 344.6,427.03 344.9,426.71 345.2,427.03 345.6,426.77 345.9,426.66 346.2,426.92 346.6,427.19 346.9,427.14 347.2,426.99 347.6,426.84 347.9,426.77 348.2,426.89 348.5,426.97 348.9,426.80 349.2,426.95 349.5,426.60 349.9,426.82 350.2,426.74 350.5,426.65 350.9,427.15 351.2,427.13 351.5,426.98 351.8,426.79 352.2,427.11 352.5,427.04 352.8,426.87 353.2,426.54 353.5,426.92 353.8,427.06 354.2,427.08 354.5,426.85 354.8,426.62 355.1,426.99 355.5,426.93 355.8,427.07 356.1,426.61 356.5,426.76 356.8,426.99"/>
<polyline fill="none" stroke="#4652f6" stroke-width="1.3" stroke-linejoin="round" points="55.7,407.58 56.0,407.51 56.4,408.08 56.7,407.85 57.0,407.69 57.4,407.66 57.7,407.49 58.0,407.39 58.3,407.55 58.7,407.46 59.0,407.63 59.3,407.55 59.7,407.25 60.0,407.19 60.3,407.25 60.7,407.09 61.0,407.34 61.3,407.43 61.6,407.68 62.0,407.49 62.3,407.52 62.6,407.67 63.0,407.78 63.3,407.53 63.6,407.86 64.0,407.65 64.3,407.87 64.6,407.72 64.9,407.64 65.3,407.48 65.6,407.59 65.9,408.08 66.3,407.79 66.6,408.04 66.9,408.12 67.3,407.87 67.6,408.02 67.9,408.14 68.2,407.92 68.6,407.78 68.9,408.01 69.2,407.99 69.6,408.28 69.9,408.13 70.2,407.81 70.6,407.85 70.9,407.68 71.2,407.94 71.5,408.05 71.9,407.92 72.2,407.78 72.5,408.03 72.9,407.92 73.2,408.15 73.5,407.89 73.9,407.89 74.2,407.85 74.5,407.75 74.8,408.34 75.2,408.43 75.5,408.08 75.8,408.17 76.2,407.77 76.5,408.10 76.8,408.23 77.2,408.04 77.5,407.96 77.8,408.02 78.2,408.08 78.5,407.97 78.8,407.84 79.1,407.88 79.5,407.88 79.8,408.08 80.1,408.05 80.5,408.06 80.8,407.75 81.1,407.83 81.5,407.86 81.8,407.86 82.1,407.92 82.4,407.92 82.8,407.72 83.1,408.04 83.4,408.19 83.8,408.01 84.1,408.13 84.4,407.92 84.8,407.77 85.1,407.88 85.4,408.23 85.7,408.11 86.1,407.82 86.4,407.98 86.7,407.92 87.1,407.87 87.4,408.03 87.7,407.75 88.1,407.62 88.4,407.62 88.7,408.05 89.0,408.07 89.4,407.97 89.7,407.91 90.0,408.11 90.4,408.30 90.7,408.05 91.0,408.11 91.4,408.48 91.7,408.36 92.0,408.14 92.3,408.16 92.7,408.13 93.0,408.20 93.3,408.18 93.7,408.03 94.0,408.02 94.3,408.09 94.7,407.94 95.0,408.00 95.3,407.85 95.6,408.14 96.0,408.31 96.3,407.97 96.6,408.08 97.0,407.99 97.3,407.89 97.6,407.72 98.0,407.61 98.3,407.50 98.6,406.82 99.0,406.58 99.3,405.92 99.6,405.27 99.9,405.20 100.3,405.60 100.6,406.05 100.9,406.63 101.3,406.99 101.6,407.26 101.9,407.70 102.3,407.62 102.6,407.92 102.9,407.96 103.2,407.87 103.6,407.85 103.9,407.82 104.2,407.85 104.6,407.85 104.9,407.82 105.2,407.46 105.6,407.22 105.9,407.40 106.2,407.15 106.5,406.79 106.9,406.40 107.2,405.82 107.5,405.94 107.9,405.97 108.2,406.32 108.5,406.63 108.9,407.27 109.2,407.65 109.5,408.00 109.8,408.08 110.2,407.85 110.5,407.68 110.8,408.04 111.2,407.88 111.5,407.90 111.8,407.91 112.2,408.02 112.5,408.08 112.8,407.85 113.1,407.81 113.5,407.62 113.8,407.91 114.1,407.92 114.5,407.67 114.8,408.02 115.1,408.00 115.5,407.82 115.8,407.84 116.1,407.82 116.4,407.93 116.8,407.99 117.1,407.89 117.4,408.01 117.8,407.56 118.1,407.73 118.4,407.97 118.8,408.13 119.1,408.18 119.4,407.89 119.8,407.65 120.1,407.77 120.4,408.25 120.7,408.13 121.1,407.91 121.4,407.65 121.7,407.82 122.1,407.79 122.4,407.92 122.7,407.90 123.1,407.46 123.4,407.60 123.7,407.78 124.0,407.61 124.4,407.39 124.7,407.25 125.0,407.10 125.4,407.51 125.7,407.42 126.0,406.83 126.4,406.61 126.7,405.81 127.0,405.31 127.3,405.08 127.7,405.34 128.0,405.91 128.3,406.63 128.7,406.88 129.0,406.92 129.3,407.01 129.7,407.00 130.0,407.10 130.3,406.94 130.6,407.05 131.0,407.12 131.3,407.22 131.6,406.94 132.0,406.99 132.3,406.93 132.6,406.63 133.0,406.13 133.3,405.80 133.6,405.35 133.9,404.19 134.3,403.24 134.6,402.04 134.9,401.67 135.3,402.63 135.6,404.05 135.9,405.23 136.3,405.92 136.6,406.46 136.9,407.16 137.2,407.16 137.6,407.05 137.9,406.91 138.2,406.65 138.6,406.85 138.9,406.85 139.2,406.90 139.6,406.82 139.9,406.96 140.2,407.01 140.5,406.63 140.9,406.21 141.2,406.13 141.5,406.12 141.9,405.92 142.2,405.95 142.5,405.87 142.9,406.17 143.2,406.64 143.5,406.92 143.9,407.05 144.2,407.25 144.5,407.41 144.8,407.38 145.2,407.25 145.5,407.10 145.8,407.31 146.2,407.36 146.5,407.39 146.8,407.63 147.2,407.46 147.5,407.46 147.8,407.62 148.1,407.45 148.5,407.18 148.8,407.33 149.1,407.62 149.5,407.53 149.8,407.56 150.1,407.31 150.5,407.70 150.8,407.40 151.1,407.44 151.4,407.54 151.8,407.93 152.1,407.81 152.4,407.62 152.8,407.42 153.1,407.52 153.4,407.42 153.8,407.49 154.1,407.63 154.4,407.90 154.7,407.65 155.1,407.95 155.4,407.56 155.7,408.02 156.1,407.82 156.4,407.79 156.7,407.77 157.1,407.89 157.4,407.91 157.7,407.89 158.0,407.83 158.4,407.84 158.7,407.96 159.0,407.92 159.4,407.90 159.7,407.77 160.0,407.96 160.4,408.13 160.7,407.97 161.0,408.23 161.3,408.18 161.7,408.19 162.0,407.90 162.3,408.14 162.7,408.36 163.0,408.56 163.3,408.24 163.7,408.17 164.0,408.26 164.3,408.26 164.7,408.06 165.0,408.06 165.3,408.19 165.6,408.17 166.0,408.04 166.3,408.14 166.6,407.76 167.0,407.88 167.3,407.73 167.6,407.70 168.0,407.85 168.3,408.05 168.6,407.92 168.9,407.79 169.3,407.96 169.6,407.88 169.9,407.35 170.3,407.34 170.6,407.30 170.9,407.23 171.3,406.99 171.6,407.11 171.9,406.92 172.2,406.86 172.6,406.22 172.9,405.68 173.2,404.99 173.6,404.79 173.9,404.77 174.2,405.02 174.6,405.23 174.9,405.14 175.2,405.19 175.5,404.04 175.9,399.52 176.2,382.44 176.3,373.75 176.5,365.97 176.5,366.21 176.7,373.52 176.9,388.06 177.2,401.93 177.5,405.34 177.9,406.13 178.2,406.60 178.5,407.14 178.8,407.25 179.2,407.21 179.5,407.28 179.8,407.60 180.2,407.82 180.5,407.73 180.8,407.50 181.2,407.80 181.5,407.58 181.8,407.60 182.1,407.67 182.5,407.64 182.8,407.60 183.1,407.87 183.5,407.79 183.8,407.48 184.1,407.48 184.5,407.78 184.8,407.68 185.1,407.50 185.4,407.74 185.8,407.77 186.1,407.72 186.4,407.78 186.8,407.66 187.1,407.70 187.4,407.78 187.8,407.63 188.1,407.86 188.4,407.59 188.8,407.97 189.1,407.82 189.4,407.81 189.7,407.54 190.1,407.75 190.4,407.58 190.7,407.72 191.1,407.70 191.4,407.56 191.7,407.91 192.1,407.82 192.4,407.66 192.7,407.62 193.0,407.71 193.4,407.71 193.7,407.83 194.0,407.66 194.4,407.71 194.7,407.62 195.0,407.55 195.4,407.75 195.7,407.59 196.0,407.38 196.3,407.65 196.7,407.59 197.0,407.72 197.3,407.77 197.7,407.79 198.0,407.72 198.3,407.92 198.7,407.59 199.0,407.78 199.3,407.65 199.6,407.65 200.0,407.53 200.3,407.66 200.6,407.65 201.0,407.49 201.3,407.48 201.6,407.53 202.0,407.45 202.3,407.81 202.6,407.65 202.9,407.42 203.3,407.52 203.6,407.43 203.9,407.26 204.3,407.19 204.6,406.95 204.9,407.20 205.3,407.41 205.6,407.24 205.9,407.04 206.2,406.78 206.6,406.73 206.9,406.88 207.2,406.83 207.6,406.87 207.9,406.75 208.2,406.78 208.6,406.76 208.9,406.77 209.2,406.72 209.6,406.65 209.9,406.38 210.2,406.22 210.5,405.81 210.9,405.40 211.2,404.54 211.5,402.48 211.9,397.85 212.2,391.16 212.3,389.50 212.5,385.80 212.6,385.76 212.9,388.16 212.9,389.46 213.2,395.20 213.5,400.56 213.8,403.64 214.2,404.69 214.5,405.54 214.8,405.88 215.2,406.05 215.5,405.79 215.8,406.03 216.2,406.05 216.5,406.25 216.8,406.27 217.1,406.22 217.5,406.21 217.8,406.48 218.1,406.59 218.5,406.21 218.8,406.24 219.1,406.43 219.5,406.34 219.8,406.42 220.1,406.35 220.4,406.63 220.8,406.60 221.1,406.44 221.4,406.61 221.8,406.56 222.1,406.70 222.4,406.41 222.8,406.11 223.1,406.33 223.4,406.30 223.7,405.99 224.1,405.52 224.4,405.92 224.7,406.09 225.1,406.02 225.4,406.04 225.7,406.14 226.1,405.94 226.4,406.27 226.7,406.02 227.1,406.11 227.4,406.15 227.7,406.09 228.0,406.02 228.4,406.24 228.7,405.95 229.0,406.07 229.4,406.38 229.7,406.14 230.0,405.91 230.4,405.97 230.7,405.60 231.0,405.78 231.3,405.79 231.7,405.85 232.0,405.86 232.3,406.09 232.7,406.11 233.0,405.94 233.3,406.23 233.7,405.99 234.0,406.27 234.3,406.08 234.6,405.92 235.0,405.91 235.3,406.20 235.6,406.12 236.0,406.05 236.3,405.75 236.6,405.87 237.0,405.87 237.3,405.86 237.6,405.77 237.9,405.60 238.3,405.97 238.6,405.77 238.9,405.92 239.3,405.97 239.6,405.91 239.9,405.87 240.3,405.91 240.6,405.76 240.9,405.70 241.2,405.70 241.6,405.61 241.9,405.40 242.2,404.80 242.6,404.79 242.9,404.39 243.2,404.38 243.6,404.22 243.9,403.95 244.2,403.94 244.5,403.79 244.9,404.24 245.2,404.52 245.5,405.20 245.9,405.09 246.2,405.66 246.5,405.57 246.9,405.24 247.2,405.72 247.5,405.62 247.8,405.67 248.2,405.82 248.5,405.46 248.8,405.47 249.2,405.58 249.5,405.81 249.8,405.68 250.2,405.74 250.5,405.40 250.8,405.61 251.2,405.47 251.5,405.49 251.8,405.57 252.1,405.72 252.5,405.53 252.8,405.60 253.1,405.50 253.5,405.59 253.8,405.43 254.1,405.62 254.5,405.27 254.8,405.06 255.1,405.23 255.4,404.79 255.8,404.42 256.1,403.63 256.4,402.10 256.5,401.83 256.8,401.17 256.9,401.15 257.1,401.12 257.3,401.81 257.4,402.41 257.8,403.33 258.1,404.18 258.4,404.66 258.7,404.57 259.1,404.79 259.4,405.05 259.7,405.14 260.1,404.89 260.4,404.83 260.7,404.93 261.1,405.04 261.4,405.15 261.7,405.09 262.0,405.18 262.4,404.98 262.7,405.30 263.0,405.12 263.4,404.91 263.7,404.89 264.0,404.68 264.4,404.75 264.7,404.86 265.0,405.03 265.3,405.21 265.7,404.98 266.0,404.89 266.3,405.08 266.7,405.22 267.0,405.24 267.3,405.16 267.7,404.90 268.0,404.87 268.3,404.69 268.6,404.73 269.0,405.04 269.3,405.20 269.6,404.93 270.0,404.87 270.3,404.85 270.6,404.30 271.0,403.77 271.3,403.35 271.6,402.58 272.0,402.30 272.3,401.72 272.6,401.25 272.9,401.16 273.3,401.50 273.6,401.99 273.9,402.43 274.3,403.26 274.6,403.71 274.9,404.24 275.3,404.45 275.6,404.75 275.9,404.68 276.2,404.96 276.6,405.05 276.9,405.33 277.2,405.17 277.6,405.10 277.9,405.33 278.2,405.02 278.6,405.30 278.9,405.32 279.2,405.28 279.5,405.35 279.9,405.33 280.2,405.22 280.5,405.43 280.9,405.27 281.2,405.36 281.5,405.36 281.9,405.27 282.2,405.24 282.5,405.38 282.8,405.34 283.2,405.59 283.5,405.62 283.8,405.43 284.2,405.57 284.5,405.10 284.8,405.53 285.2,405.24 285.5,405.11 285.8,405.43 286.1,405.14 286.5,405.14 286.8,405.31 287.1,405.00 287.5,405.16 287.8,405.40 288.1,405.24 288.5,405.51 288.8,405.25 289.1,405.49 289.4,405.43 289.8,405.35 290.1,405.23 290.4,405.04 290.8,405.24 291.1,404.93 291.4,404.92 291.8,404.94 292.1,404.81 292.4,404.65 292.8,404.24 293.1,403.81 293.4,403.75 293.7,403.63 294.1,403.83 294.4,403.56 294.7,403.90 295.1,404.26 295.4,404.40 295.7,404.37 296.1,404.69 296.4,405.04 296.7,404.96 297.0,404.90 297.4,404.88 297.7,404.88 298.0,404.76 298.4,405.50 298.7,405.30 299.0,405.44 299.4,405.50 299.7,405.26 300.0,405.33 300.3,405.57 300.7,405.60 301.0,405.56 301.3,405.27 301.7,405.15 302.0,405.21 302.3,405.47 302.7,405.23 303.0,405.34 303.3,405.47 303.6,405.47 304.0,405.34 304.3,405.17 304.6,405.31 305.0,405.21 305.3,405.27 305.6,405.15 306.0,405.10 306.3,405.08 306.6,404.98 306.9,405.24 307.3,404.98 307.6,405.14 307.9,405.08 308.3,405.20 308.6,404.90 308.9,405.03 309.3,405.09 309.6,405.33 309.9,405.37 310.2,405.28 310.6,405.17 310.9,405.13 311.2,405.26 311.6,405.36 311.9,405.29 312.2,405.35 312.6,404.94 312.9,405.14 313.2,405.39 313.6,405.20 313.9,405.00 314.2,405.22 314.5,404.80 314.9,405.09 315.2,404.84 315.5,404.99 315.9,404.79 316.2,405.12 316.5,405.03 316.9,404.89 317.2,404.91 317.5,405.14 317.8,405.26 318.2,405.11 318.5,404.97 318.8,405.17 319.2,405.05 319.5,404.88 319.8,405.19 320.2,404.77 320.5,404.89 320.8,405.15 321.1,405.07 321.5,405.01 321.8,405.09 322.1,404.82 322.5,404.86 322.8,404.86 323.1,405.03 323.5,405.03 323.8,404.96 324.1,405.12 324.4,405.20 324.8,404.83 325.1,405.27 325.4,405.12 325.8,404.91 326.1,405.17 326.4,404.62 326.8,404.57 327.1,404.78 327.4,404.73 327.7,404.62 328.1,404.71 328.4,405.03 328.7,404.93 329.1,405.01 329.4,405.02 329.7,404.89 330.1,404.83 330.4,404.67 330.7,404.71 331.0,404.78 331.4,404.61 331.7,404.49 332.0,404.42 332.4,404.16 332.7,403.78 333.0,402.61 333.4,401.12 333.7,397.89 334.0,393.96 334.1,392.57 334.4,390.26 334.5,389.76 334.7,390.61 334.9,392.57 335.0,394.30 335.3,398.19 335.7,401.51 336.0,402.99 336.3,403.68 336.7,404.35 337.0,404.60 337.3,404.29 337.7,404.56 338.0,404.97 338.3,404.91 338.6,404.83 339.0,405.05 339.3,405.16 339.6,404.96 340.0,404.92 340.3,404.93 340.6,404.94 341.0,404.84 341.3,404.89 341.6,405.13 341.9,404.90 342.3,405.20 342.6,405.26 342.9,405.33 343.3,405.36 343.6,405.13 343.9,404.92 344.3,405.24 344.6,405.21 344.9,405.27 345.2,405.38 345.6,405.09 345.9,405.15 346.2,405.19 346.6,405.07 346.9,405.03 347.2,405.16 347.6,405.28 347.9,405.48 348.2,405.53 348.5,405.64 348.9,405.40 349.2,405.41 349.5,405.38 349.9,405.34 350.2,405.29 350.5,405.57 350.9,405.73 351.2,405.59 351.5,405.10 351.8,405.13 352.2,405.20 352.5,405.64 352.8,405.75 353.2,405.60 353.5,405.69 353.8,405.67 354.2,405.61 354.5,405.58 354.8,405.44 355.1,405.37 355.5,405.48 355.8,405.38 356.1,405.57 356.5,405.55 356.8,405.45"/>
<polyline fill="none" stroke="#fa0808" stroke-width="1.3" stroke-linejoin="round" points="55.7,454.35 56.0,453.98 56.4,454.04 56.7,453.98 57.0,453.85 57.4,453.84 57.7,453.84 58.0,453.91 58.3,454.02 58.7,454.17 59.0,454.10 59.3,454.22 59.7,454.16 60.0,454.08 60.3,453.99 60.7,453.83 61.0,453.65 61.3,453.82 61.6,453.87 62.0,453.98 62.3,454.02 62.6,453.79 63.0,453.77 63.3,453.70 63.6,454.00 64.0,453.95 64.3,453.97 64.6,453.81 64.9,453.68 65.3,453.73 65.6,453.83 65.9,453.96 66.3,453.71 66.6,453.88 66.9,453.77 67.3,453.77 67.6,453.80 67.9,453.80 68.2,453.93 68.6,454.06 68.9,454.03 69.2,453.88 69.6,453.96 69.9,453.98 70.2,454.07 70.6,454.01 70.9,453.69 71.2,453.67 71.5,453.72 71.9,453.95 72.2,453.89 72.5,454.02 72.9,453.98 73.2,453.72 73.5,453.80 73.9,453.92 74.2,453.94 74.5,453.65 74.8,453.82 75.2,453.73 75.5,453.45 75.8,453.56 76.2,453.39 76.5,453.42 76.8,453.86 77.2,454.22 77.5,454.15 77.8,454.02 78.2,454.19 78.5,454.02 78.8,453.73 79.1,453.37 79.5,453.73 79.8,453.39 80.1,453.14 80.5,453.37 80.8,453.59 81.1,453.53 81.5,453.81 81.8,453.75 82.1,453.77 82.4,453.81 82.8,453.66 83.1,453.72 83.4,454.08 83.8,453.72 84.1,453.73 84.4,453.79 84.8,453.64 85.1,453.65 85.4,453.39 85.7,453.47 86.1,453.58 86.4,453.79 86.7,453.86 87.1,453.64 87.4,453.46 87.7,453.84 88.1,453.86 88.4,453.42 88.7,453.47 89.0,453.40 89.4,453.41 89.7,453.23 90.0,453.36 90.4,453.40 90.7,453.45 91.0,453.68 91.4,453.65 91.7,453.40 92.0,453.20 92.3,453.30 92.7,453.61 93.0,453.72 93.3,453.51 93.7,453.70 94.0,453.66 94.3,453.48 94.7,453.56 95.0,453.51 95.3,453.32 95.6,453.34 96.0,453.44 96.3,453.66 96.6,453.39 97.0,453.46 97.3,453.46 97.6,453.44 98.0,453.24 98.3,453.55 98.6,453.69 99.0,453.80 99.3,453.66 99.6,453.76 99.9,453.65 100.3,453.67 100.6,453.46 100.9,453.45 101.3,453.36 101.6,453.20 101.9,453.22 102.3,453.12 102.6,453.07 102.9,453.16 103.2,453.16 103.6,453.59 103.9,453.73 104.2,453.68 104.6,453.61 104.9,453.31 105.2,453.36 105.6,453.10 105.9,453.11 106.2,453.13 106.5,453.16 106.9,453.37 107.2,453.19 107.5,453.63 107.9,453.35 108.2,453.44 108.5,453.09 108.9,453.33 109.2,453.09 109.5,453.21 109.8,453.22 110.2,453.36 110.5,453.39 110.8,453.36 111.2,453.26 111.5,453.55 111.8,453.29 112.2,453.25 112.5,453.15 112.8,453.20 113.1,453.04 113.5,453.06 113.8,453.21 114.1,453.10 114.5,453.22 114.8,453.10 115.1,453.37 115.5,453.24 115.8,453.48 116.1,453.39 116.4,453.24 116.8,453.35 117.1,453.43 117.4,453.52 117.8,453.54 118.1,453.47 118.4,453.10 118.8,453.27 119.1,453.18 119.4,453.22 119.8,453.38 120.1,453.12 120.4,453.34 120.7,453.61 121.1,453.43 121.4,453.21 121.7,453.38 122.1,453.26 122.4,453.35 122.7,453.42 123.1,453.01 123.4,453.11 123.7,452.86 124.0,452.88 124.4,453.10 124.7,452.91 125.0,452.90 125.4,452.93 125.7,453.07 126.0,453.14 126.4,453.19 126.7,453.05 127.0,452.95 127.3,453.10 127.7,452.95 128.0,452.90 128.3,453.12 128.7,452.97 129.0,452.89 129.3,453.18 129.7,453.12 130.0,452.74 130.3,452.81 130.6,453.28 131.0,453.63 131.3,453.28 131.6,453.28 132.0,453.29 132.3,453.22 132.6,452.84 133.0,453.13 133.3,453.13 133.6,453.05 133.9,452.79 134.3,452.83 134.6,452.92 134.9,452.94 135.3,453.02 135.6,452.96 135.9,453.15 136.3,453.16 136.6,452.88 136.9,452.84 137.2,452.98 137.6,452.88 137.9,453.14 138.2,452.94 138.6,452.97 138.9,453.04 139.2,452.78 139.6,453.04 139.9,452.92 140.2,452.78 140.5,452.71 140.9,452.51 141.2,452.46 141.5,452.90 141.9,452.82 142.2,452.75 142.5,452.79 142.9,452.86 143.2,452.67 143.5,452.66 143.9,452.73 144.2,452.87 144.5,452.80 144.8,452.99 145.2,452.76 145.5,452.63 145.8,452.39 146.2,452.49 146.5,452.64 146.8,452.55 147.2,452.51 147.5,452.36 147.8,452.34 148.1,452.34 148.5,452.39 148.8,452.59 149.1,452.58 149.5,452.63 149.8,452.68 150.1,452.43 150.5,452.60 150.8,452.46 151.1,452.16 151.4,452.13 151.8,452.19 152.1,451.98 152.4,452.49 152.8,452.33 153.1,452.39 153.4,452.08 153.8,452.13 154.1,452.18 154.4,452.02 154.7,452.10 155.1,452.09 155.4,452.13 155.7,451.89 156.1,452.04 156.4,451.98 156.7,451.84 157.1,451.56 157.4,451.74 157.7,451.79 158.0,452.24 158.4,451.86 158.7,452.11 159.0,452.17 159.4,452.06 159.7,451.97 160.0,451.96 160.4,451.63 160.7,451.94 161.0,451.79 161.3,451.65 161.7,451.69 162.0,451.27 162.3,451.29 162.7,451.32 163.0,451.26 163.3,451.57 163.7,451.87 164.0,451.74 164.3,451.62 164.7,451.66 165.0,451.54 165.3,451.58 165.6,451.64 166.0,451.55 166.3,451.48 166.6,451.52 167.0,451.53 167.3,451.62 167.6,451.31 168.0,451.22 168.3,451.28 168.6,451.45 168.9,451.24 169.3,451.54 169.6,451.70 169.9,451.41 170.3,451.58 170.6,451.12 170.9,451.23 171.3,451.02 171.6,451.34 171.9,451.43 172.2,451.40 172.6,451.18 172.9,450.96 173.2,451.06 173.6,450.89 173.9,450.92 174.2,450.43 174.6,450.33 174.9,449.94 175.2,448.58 175.5,445.83 175.9,435.90 176.2,414.26 176.2,413.69 176.4,406.25 176.5,410.18 176.6,414.40 176.9,432.78 177.2,445.05 177.5,448.87 177.9,449.79 178.2,450.56 178.5,451.26 178.8,451.57 179.2,451.44 179.5,452.02 179.8,451.90 180.2,452.14 180.5,452.30 180.8,452.21 181.2,452.37 181.5,451.93 181.8,452.22 182.1,452.39 182.5,452.42 182.8,452.53 183.1,452.75 183.5,452.84 183.8,452.65 184.1,452.80 184.5,452.93 184.8,452.82 185.1,452.82 185.4,452.37 185.8,452.30 186.1,452.58 186.4,452.41 186.8,452.71 187.1,452.89 187.4,452.63 187.8,452.48 188.1,452.56 188.4,452.66 188.8,452.80 189.1,452.69 189.4,452.68 189.7,452.51 190.1,452.63 190.4,452.51 190.7,452.74 191.1,452.78 191.4,452.42 191.7,452.57 192.1,452.40 192.4,452.65 192.7,452.43 193.0,452.70 193.4,452.78 193.7,452.95 194.0,452.76 194.4,452.62 194.7,452.73 195.0,452.39 195.4,452.41 195.7,452.37 196.0,452.39 196.3,452.14 196.7,452.00 197.0,451.93 197.3,452.40 197.7,452.31 198.0,452.41 198.3,452.33 198.7,452.27 199.0,452.47 199.3,451.98 199.6,452.08 200.0,452.03 200.3,451.97 200.6,451.83 201.0,451.77 201.3,451.78 201.6,452.14 202.0,452.01 202.3,451.98 202.6,452.00 202.9,452.13 203.3,452.24 203.6,452.14 203.9,452.06 204.3,452.09 204.6,451.88 204.9,451.94 205.3,452.18 205.6,451.90 205.9,451.73 206.2,451.52 206.6,451.66 206.9,451.79 207.2,451.65 207.6,451.57 207.9,451.73 208.2,451.57 208.6,451.55 208.9,451.29 209.2,451.34 209.6,451.16 209.9,450.73 210.2,450.20 210.5,450.04 210.9,448.58 211.2,446.18 211.5,441.06 211.9,432.57 212.2,420.35 212.2,418.23 212.5,410.93 212.6,410.77 212.9,414.81 212.9,417.99 213.2,426.99 213.5,437.90 213.8,444.46 214.2,447.63 214.5,449.29 214.8,450.05 215.2,450.42 215.5,450.84 215.8,451.07 216.2,451.34 216.5,451.49 216.8,451.59 217.1,451.46 217.5,451.72 217.8,451.81 218.1,451.63 218.5,451.84 218.8,451.76 219.1,451.56 219.5,451.63 219.8,451.47 220.1,451.78 220.4,451.54 220.8,451.87 221.1,451.65 221.4,451.66 221.8,451.89 222.1,451.84 222.4,451.50 222.8,451.59 223.1,451.35 223.4,451.64 223.7,451.50 224.1,451.57 224.4,451.60 224.7,451.38 225.1,451.57 225.4,451.88 225.7,451.59 226.1,451.50 226.4,451.61 226.7,451.78 227.1,451.52 227.4,451.57 227.7,451.60 228.0,451.72 228.4,451.47 228.7,451.87 229.0,451.98 229.4,451.48 229.7,451.33 230.0,451.44 230.4,451.33 230.7,451.28 231.0,451.34 231.3,451.24 231.7,451.20 232.0,451.31 232.3,451.25 232.7,451.34 233.0,451.47 233.3,451.54 233.7,451.39 234.0,451.63 234.3,451.34 234.6,451.41 235.0,451.57 235.3,451.38 235.6,451.38 236.0,451.17 236.3,451.05 236.6,451.11 237.0,451.17 237.3,451.17 237.6,451.21 237.9,451.16 238.3,451.07 238.6,450.94 238.9,450.95 239.3,450.97 239.6,450.96 239.9,450.77 240.3,451.05 240.6,451.14 240.9,451.04 241.2,450.87 241.6,451.04 241.9,450.89 242.2,450.82 242.6,450.91 242.9,450.76 243.2,450.79 243.6,450.70 243.9,450.83 244.2,450.84 244.5,450.89 244.9,450.86 245.2,450.82 245.5,450.81 245.9,450.86 246.2,450.60 246.5,450.44 246.9,450.56 247.2,450.62 247.5,450.57 247.8,450.82 248.2,450.76 248.5,450.86 248.8,450.71 249.2,450.41 249.5,450.27 249.8,450.58 250.2,450.56 250.5,450.46 250.8,450.68 251.2,450.85 251.5,450.71 251.8,450.78 252.1,450.56 252.5,450.36 252.8,450.16 253.1,450.49 253.5,450.22 253.8,450.28 254.1,450.37 254.5,450.49 254.8,450.16 255.1,450.26 255.4,450.22 255.8,450.55 256.1,450.44 256.4,450.31 256.8,450.62 257.1,450.52 257.4,450.57 257.8,450.52 258.1,450.42 258.4,450.52 258.7,450.33 259.1,450.14 259.4,450.17 259.7,450.38 260.1,450.32 260.4,450.52 260.7,450.56 261.1,450.49 261.4,450.60 261.7,450.54 262.0,450.51 262.4,450.40 262.7,450.38 263.0,450.37 263.4,450.55 263.7,450.71 264.0,450.71 264.4,450.58 264.7,450.46 265.0,450.47 265.3,450.35 265.7,450.38 266.0,450.35 266.3,450.38 266.7,450.04 267.0,450.25 267.3,450.45 267.7,450.27 268.0,450.63 268.3,450.55 268.6,450.40 269.0,450.64 269.3,450.39 269.6,450.84 270.0,450.52 270.3,450.63 270.6,450.76 271.0,450.71 271.3,450.60 271.6,450.42 272.0,450.43 272.3,450.50 272.6,450.64 272.9,450.22 273.3,450.47 273.6,450.31 273.9,450.32 274.3,450.41 274.6,450.37 274.9,450.54 275.3,450.28 275.6,450.49 275.9,450.35 276.2,450.39 276.6,450.46 276.9,450.28 277.2,450.49 277.6,450.85 277.9,450.58 278.2,450.42 278.6,450.73 278.9,450.89 279.2,450.39 279.5,450.43 279.9,450.38 280.2,450.50 280.5,450.52 280.9,450.39 281.2,450.42 281.5,450.67 281.9,450.47 282.2,450.56 282.5,450.66 282.8,450.88 283.2,450.77 283.5,450.70 283.8,450.48 284.2,450.57 284.5,450.78 284.8,450.73 285.2,450.83 285.5,450.61 285.8,450.70 286.1,450.58 286.5,450.45 286.8,450.40 287.1,450.65 287.5,450.67 287.8,450.55 288.1,450.47 288.5,450.59 288.8,450.44 289.1,450.61 289.4,450.54 289.8,450.37 290.1,450.33 290.4,450.15 290.8,450.04 291.1,450.04 291.4,449.99 291.8,449.93 292.1,449.76 292.4,449.61 292.8,449.59 293.1,449.23 293.4,448.81 293.7,449.24 294.1,449.22 294.4,449.30 294.7,449.57 295.1,449.78 295.4,449.99 295.7,450.06 296.1,450.11 296.4,450.11 296.7,450.03 297.0,450.01 297.4,449.47 297.7,450.03 298.0,450.02 298.4,449.88 298.7,450.14 299.0,449.98 299.4,450.07 299.7,449.93 300.0,449.82 300.3,450.12 300.7,450.11 301.0,449.84 301.3,450.06 301.7,450.20 302.0,450.08 302.3,450.18 302.7,450.32 303.0,450.36 303.3,450.30 303.6,450.29 304.0,450.42 304.3,450.26 304.6,450.12 305.0,450.05 305.3,450.57 305.6,450.14 306.0,450.11 306.3,449.81 306.6,449.95 306.9,450.00 307.3,450.03 307.6,450.18 307.9,450.36 308.3,450.25 308.6,450.04 308.9,449.99 309.3,450.05 309.6,449.96 309.9,450.03 310.2,450.15 310.6,450.16 310.9,450.44 311.2,450.00 311.6,450.08 311.9,450.26 312.2,450.01 312.6,449.80 312.9,450.30 313.2,450.35 313.6,450.30 313.9,450.39 314.2,450.09 314.5,449.93 314.9,450.28 315.2,450.21 315.5,449.91 315.9,450.01 316.2,450.32 316.5,450.05 316.9,449.85 317.2,449.64 317.5,449.89 317.8,450.01 318.2,449.98 318.5,449.98 318.8,450.02 319.2,449.99 319.5,449.98 319.8,450.22 320.2,450.18 320.5,450.24 320.8,449.90 321.1,449.89 321.5,450.19 321.8,450.19 322.1,450.33 322.5,450.00 322.8,450.18 323.1,450.07 323.5,450.11 323.8,450.02 324.1,449.93 324.4,449.88 324.8,449.99 325.1,450.23 325.4,450.00 325.8,449.97 326.1,449.88 326.4,449.87 326.8,450.09 327.1,450.00 327.4,449.88 327.7,450.07 328.1,450.09 328.4,450.08 328.7,450.02 329.1,449.86 329.4,449.98 329.7,449.78 330.1,449.77 330.4,449.71 330.7,449.77 331.0,449.50 331.4,449.41 331.7,448.82 332.0,448.60 332.4,448.10 332.7,447.10 333.0,444.75 333.4,441.21 333.7,434.85 334.0,426.61 334.4,420.18 334.7,420.45 335.0,427.68 335.3,435.44 335.7,441.71 336.0,445.37 336.3,447.30 336.7,448.09 337.0,448.76 337.3,449.07 337.7,449.54 338.0,449.54 338.3,449.42 338.6,449.83 339.0,449.72 339.3,449.84 339.6,450.07 340.0,450.34 340.3,450.31 340.6,450.34 341.0,450.28 341.3,450.26 341.6,450.23 341.9,450.29 342.3,450.14 342.6,450.25 342.9,450.45 343.3,450.40 343.6,450.33 343.9,450.45 344.3,450.25 344.6,450.27 344.9,450.67 345.2,450.63 345.6,450.61 345.9,450.46 346.2,450.31 346.6,450.18 346.9,450.30 347.2,450.56 347.6,450.47 347.9,450.57 348.2,450.44 348.5,450.45 348.9,450.49 349.2,450.92 349.5,450.67 349.9,450.40 350.2,450.57 350.5,450.50 350.9,450.55 351.2,450.38 351.5,450.56 351.8,450.40 352.2,450.49 352.5,450.41 352.8,450.32 353.2,450.49 353.5,450.54 353.8,450.19 354.2,450.45 354.5,450.59 354.8,450.55 355.1,450.56 355.5,450.56 355.8,450.56 356.1,450.46 356.5,450.63 356.8,450.74"/>
<polyline fill="none" stroke="#0a0a0a" stroke-width="1.3" stroke-linejoin="round" points="55.7,480.33 56.0,480.07 56.4,480.48 56.7,480.96 57.0,480.73 57.4,480.77 57.7,480.79 58.0,480.72 58.3,480.69 58.7,480.73 59.0,480.50 59.3,480.18 59.7,480.00 60.0,480.33 60.3,480.45 60.7,480.41 61.0,480.00 61.3,480.17 61.6,480.28 62.0,480.17 62.3,480.16 62.6,480.66 63.0,480.74 63.3,480.69 63.6,480.57 64.0,480.39 64.3,480.32 64.6,480.48 64.9,480.28 65.3,480.29 65.6,480.63 65.9,480.27 66.3,480.19 66.6,480.60 66.9,480.54 67.3,480.48 67.6,480.28 67.9,480.08 68.2,480.45 68.6,479.95 68.9,480.26 69.2,480.22 69.6,480.28 69.9,479.96 70.2,480.34 70.6,480.45 70.9,480.45 71.2,480.47 71.5,480.17 71.9,480.30 72.2,480.41 72.5,480.36 72.9,479.80 73.2,480.08 73.5,480.24 73.9,480.10 74.2,480.24 74.5,480.52 74.8,480.40 75.2,480.59 75.5,480.35 75.8,480.21 76.2,480.32 76.5,480.16 76.8,479.95 77.2,480.21 77.5,480.27 77.8,480.40 78.2,480.20 78.5,480.18 78.8,480.34 79.1,480.23 79.5,480.23 79.8,480.31 80.1,480.17 80.5,480.28 80.8,480.03 81.1,480.26 81.5,480.74 81.8,480.60 82.1,480.35 82.4,480.03 82.8,479.96 83.1,480.08 83.4,480.05 83.8,480.25 84.1,480.28 84.4,480.40 84.8,480.28 85.1,480.41 85.4,480.56 85.7,480.23 86.1,480.22 86.4,480.21 86.7,480.21 87.1,480.42 87.4,480.25 87.7,480.08 88.1,479.92 88.4,479.82 88.7,480.02 89.0,480.27 89.4,480.24 89.7,480.07 90.0,480.09 90.4,479.97 90.7,480.24 91.0,480.19 91.4,480.38 91.7,480.28 92.0,480.14 92.3,479.63 92.7,479.38 93.0,478.80 93.0,478.70 93.3,478.49 93.4,478.55 93.7,478.88 93.8,479.25 94.0,479.45 94.3,479.47 94.7,479.70 95.0,480.25 95.3,480.28 95.6,480.20 96.0,480.08 96.3,480.14 96.6,480.21 97.0,480.10 97.3,480.12 97.6,480.18 98.0,479.97 98.3,480.03 98.6,479.97 99.0,479.96 99.3,479.91 99.6,479.93 99.9,479.91 100.3,480.33 100.6,480.20 100.9,480.23 101.3,480.04 101.6,480.12 101.9,480.20 102.3,480.44 102.6,480.56 102.9,480.25 103.2,480.49 103.6,480.30 103.9,480.41 104.2,480.24 104.6,480.30 104.9,480.18 105.2,479.91 105.6,480.12 105.9,480.06 106.2,480.07 106.5,480.13 106.9,480.21 107.2,480.57 107.5,480.13 107.9,480.03 108.2,479.91 108.5,480.22 108.9,480.10 109.2,480.00 109.5,480.13 109.8,480.12 110.2,480.19 110.5,479.88 110.8,479.99 111.2,480.14 111.5,480.01 111.8,480.26 112.2,480.14 112.5,479.97 112.8,479.95 113.1,480.11 113.5,480.26 113.8,480.07 114.1,480.16 114.5,480.05 114.8,479.90 115.1,479.82 115.5,480.07 115.8,479.99 116.1,480.05 116.4,480.33 116.8,480.34 117.1,480.11 117.4,480.03 117.8,480.08 118.1,479.70 118.4,480.00 118.8,479.90 119.1,480.10 119.4,479.94 119.8,479.93 120.1,480.13 120.4,480.18 120.7,480.40 121.1,480.12 121.4,479.97 121.7,480.25 122.1,480.22 122.4,479.92 122.7,479.89 123.1,480.03 123.4,479.94 123.7,479.74 124.0,479.90 124.4,480.04 124.7,480.24 125.0,480.30 125.4,480.28 125.7,479.99 126.0,479.80 126.4,479.74 126.7,479.98 127.0,480.15 127.3,479.75 127.7,479.98 128.0,480.14 128.3,480.32 128.7,480.27 129.0,480.28 129.3,480.16 129.7,480.01 130.0,479.97 130.3,479.96 130.6,479.77 131.0,479.85 131.3,480.07 131.6,479.94 132.0,480.13 132.3,479.85 132.6,479.91 133.0,479.68 133.3,479.79 133.6,479.62 133.9,479.35 134.3,478.95 134.6,478.57 134.9,478.62 135.3,478.79 135.6,478.69 135.9,479.24 136.3,479.64 136.6,479.38 136.9,479.86 137.2,479.87 137.6,480.07 137.9,479.94 138.2,479.97 138.6,479.81 138.9,479.84 139.2,479.63 139.6,479.84 139.9,479.83 140.2,479.78 140.5,479.74 140.9,479.68 141.2,479.82 141.5,479.86 141.9,479.85 142.2,480.12 142.5,479.83 142.9,479.81 143.2,479.65 143.5,479.75 143.9,479.81 144.2,479.56 144.5,479.81 144.8,479.51 145.2,479.63 145.5,479.73 145.8,479.59 146.2,479.98 146.5,479.95 146.8,479.69 147.2,479.85 147.5,479.92 147.8,479.79 148.1,479.69 148.5,479.94 148.8,480.28 149.1,480.08 149.5,480.31 149.8,479.75 150.1,479.52 150.5,479.70 150.8,479.65 151.1,479.78 151.4,480.11 151.8,479.76 152.1,479.85 152.4,479.81 152.8,479.58 153.1,479.65 153.4,479.52 153.8,479.61 154.1,479.94 154.4,480.02 154.7,480.05 155.1,479.90 155.4,479.72 155.7,480.08 156.1,479.88 156.4,479.87 156.7,479.96 157.1,479.79 157.4,479.82 157.7,479.74 158.0,479.77 158.4,479.87 158.7,479.53 159.0,479.62 159.4,479.55 159.7,479.57 160.0,479.67 160.4,479.90 160.7,479.39 161.0,479.81 161.3,479.60 161.7,479.46 162.0,479.41 162.3,479.54 162.7,479.58 163.0,479.28 163.3,479.15 163.7,479.54 164.0,479.52 164.3,479.20 164.7,479.34 165.0,479.38 165.3,479.71 165.6,479.45 166.0,479.37 166.3,479.36 166.6,479.48 167.0,479.55 167.3,479.60 167.6,479.81 168.0,479.58 168.3,479.76 168.6,479.58 168.9,479.61 169.3,479.64 169.6,479.79 169.9,479.38 170.3,479.73 170.6,479.17 170.9,479.21 171.3,479.21 171.6,479.21 171.9,479.44 172.2,478.99 172.6,478.85 172.9,479.11 173.2,479.32 173.6,478.87 173.9,478.67 174.2,478.66 174.6,478.46 174.9,477.65 175.2,476.72 175.5,473.77 175.9,466.28 176.2,457.04 176.2,455.23 176.4,452.23 176.5,454.16 176.7,457.20 176.9,464.51 177.2,473.22 177.5,476.52 177.9,477.61 178.2,477.72 178.5,478.00 178.8,478.69 179.2,478.64 179.5,478.73 179.8,478.82 180.2,478.95 180.5,479.32 180.8,478.89 181.2,478.70 181.5,479.17 181.8,479.24 182.1,479.28 182.5,479.40 182.8,479.22 183.1,479.27 183.5,479.36 183.8,479.46 184.1,479.30 184.5,478.99 184.8,478.92 185.1,478.98 185.4,478.97 185.8,479.23 186.1,478.96 186.4,479.11 186.8,479.01 187.1,479.07 187.4,479.32 187.8,479.35 188.1,479.09 188.4,479.07 188.8,479.23 189.1,479.13 189.4,479.26 189.7,479.36 190.1,479.11 190.4,479.16 190.7,479.42 191.1,479.31 191.4,479.03 191.7,479.25 192.1,479.11 192.4,479.00 192.7,479.07 193.0,479.15 193.4,478.97 193.7,479.04 194.0,479.11 194.4,479.18 194.7,479.05 195.0,478.88 195.4,478.94 195.7,479.01 196.0,479.01 196.3,479.13 196.7,479.09 197.0,478.77 197.3,478.96 197.7,479.10 198.0,478.71 198.3,478.95 198.7,479.08 199.0,479.06 199.3,479.07 199.6,478.85 200.0,478.97 200.3,479.01 200.6,478.79 201.0,478.95 201.3,479.08 201.6,478.93 202.0,479.23 202.3,479.09 202.6,479.01 202.9,479.03 203.3,478.97 203.6,478.89 203.9,478.78 204.3,478.52 204.6,478.44 204.9,478.65 205.3,478.97 205.6,478.77 205.9,478.33 206.2,478.67 206.6,478.49 206.9,478.43 207.2,478.60 207.6,478.62 207.9,478.60 208.2,478.43 208.6,478.30 208.9,478.38 209.2,478.40 209.6,478.30 209.9,478.16 210.2,477.87 210.5,477.26 210.9,476.62 211.2,475.17 211.5,471.60 211.9,464.22 212.2,451.35 212.3,446.56 212.5,439.83 212.6,439.30 212.9,444.68 212.9,446.47 213.2,458.40 213.5,468.99 213.8,473.95 214.2,475.91 214.5,477.11 214.8,477.49 215.2,477.74 215.5,477.87 215.8,478.11 216.2,478.22 216.5,478.31 216.8,478.40 217.1,478.52 217.5,478.34 217.8,478.35 218.1,478.44 218.5,478.56 218.8,478.58 219.1,478.65 219.5,478.69 219.8,478.66 220.1,478.64 220.4,479.00 220.8,478.86 221.1,478.72 221.4,478.86 221.8,478.86 222.1,478.66 222.4,478.96 222.8,478.43 223.1,478.69 223.4,478.78 223.7,478.88 224.1,478.80 224.4,478.38 224.7,478.32 225.1,478.61 225.4,478.43 225.7,478.81 226.1,479.05 226.4,478.61 226.7,478.77 227.1,478.88 227.4,479.19 227.7,478.81 228.0,478.83 228.4,478.90 228.7,478.60 229.0,478.50 229.4,478.70 229.7,478.67 230.0,478.51 230.4,478.40 230.7,478.51 231.0,478.46 231.3,478.65 231.7,478.63 232.0,478.91 232.3,478.70 232.7,478.57 233.0,478.67 233.3,478.78 233.7,478.52 234.0,478.46 234.3,478.38 234.6,478.29 235.0,478.43 235.3,478.57 235.6,478.46 236.0,478.35 236.3,478.29 236.6,478.72 237.0,478.67 237.3,478.66 237.6,478.48 237.9,478.39 238.3,478.42 238.6,478.42 238.9,478.25 239.3,478.41 239.6,478.38 239.9,478.48 240.3,478.60 240.6,478.60 240.9,478.45 241.2,478.78 241.6,478.85 241.9,478.74 242.2,478.77 242.6,478.54 242.9,478.59 243.2,478.70 243.6,478.70 243.9,478.48 244.2,478.43 244.5,478.31 244.9,478.36 245.2,478.53 245.5,478.17 245.9,478.05 246.2,478.27 246.5,478.37 246.9,478.37 247.2,478.61 247.5,478.40 247.8,478.20 248.2,478.26 248.5,478.14 248.8,478.48 249.2,478.75 249.5,478.52 249.8,478.44 250.2,478.45 250.5,478.50 250.8,478.38 251.2,478.22 251.5,478.40 251.8,478.58 252.1,478.31 252.5,478.12 252.8,478.19 253.1,478.61 253.5,478.33 253.8,478.18 254.1,478.35 254.5,478.27 254.8,478.23 255.1,478.47 255.4,478.20 255.8,478.16 256.1,478.46 256.4,478.52 256.8,478.55 257.1,478.39 257.4,478.38 257.8,478.26 258.1,478.44 258.4,478.50 258.7,478.58 259.1,478.34 259.4,478.32 259.7,478.40 260.1,478.56 260.4,478.28 260.7,478.41 261.1,478.34 261.4,478.32 261.7,478.20 262.0,478.36 262.4,478.43 262.7,478.19 263.0,478.46 263.4,478.23 263.7,478.31 264.0,478.52 264.4,478.16 264.7,477.95 265.0,478.20 265.3,478.34 265.7,478.34 266.0,478.41 266.3,478.17 266.7,478.27 267.0,478.30 267.3,478.36 267.7,478.16 268.0,478.61 268.3,478.34 268.6,477.97 269.0,477.90 269.3,477.86 269.6,478.23 270.0,478.34 270.3,478.27 270.6,478.30 271.0,478.19 271.3,478.33 271.6,478.10 272.0,478.36 272.3,478.28 272.6,478.42 272.9,477.92 273.3,477.89 273.6,477.98 273.9,478.01 274.3,477.78 274.6,478.06 274.9,478.06 275.3,477.79 275.6,477.69 275.9,477.72 276.2,477.73 276.6,477.87 276.9,477.92 277.2,478.03 277.6,478.06 277.9,477.69 278.2,478.02 278.6,477.63 278.9,477.75 279.2,477.70 279.5,477.55 279.9,477.88 280.2,477.59 280.5,477.65 280.9,477.57 281.2,477.77 281.5,477.69 281.9,477.75 282.2,477.86 282.5,477.85 282.8,477.89 283.2,477.89 283.5,477.96 283.8,477.73 284.2,477.31 284.5,477.41 284.8,477.42 285.2,477.53 285.5,477.64 285.8,477.69 286.1,477.52 286.5,477.36 286.8,477.67 287.1,477.81 287.5,477.76 287.8,477.91 288.1,477.84 288.5,477.63 288.8,477.61 289.1,477.65 289.4,477.81 289.8,477.70 290.1,477.72 290.4,477.36 290.8,477.54 291.1,477.77 291.4,477.45 291.8,477.51 292.1,477.56 292.4,477.43 292.8,477.29 293.1,477.12 293.4,476.95 293.7,476.81 294.1,476.68 294.4,476.74 294.7,476.78 295.1,477.04 295.4,477.47 295.7,477.39 296.1,477.50 296.4,477.55 296.7,477.81 297.0,477.76 297.4,477.92 297.7,477.56 298.0,477.94 298.4,477.99 298.7,478.09 299.0,477.93 299.4,477.88 299.7,477.95 300.0,477.61 300.3,477.42 300.7,477.81 301.0,477.75 301.3,477.91 301.7,478.01 302.0,477.65 302.3,477.86 302.7,477.77 303.0,477.74 303.3,477.41 303.6,477.58 304.0,477.55 304.3,477.94 304.6,477.74 305.0,477.94 305.3,477.91 305.6,478.13 306.0,477.89 306.3,477.82 306.6,477.75 306.9,477.85 307.3,477.72 307.6,477.82 307.9,478.07 308.3,477.39 308.6,477.70 308.9,477.80 309.3,477.75 309.6,477.88 309.9,477.88 310.2,477.96 310.6,477.94 310.9,477.86 311.2,477.86 311.6,477.80 311.9,477.53 312.2,477.56 312.6,477.85 312.9,477.44 313.2,477.41 313.6,477.66 313.9,477.66 314.2,477.64 314.5,477.71 314.9,478.06 315.2,477.77 315.5,477.44 315.9,477.76 316.2,477.89 316.5,477.59 316.9,477.56 317.2,477.97 317.5,478.08 317.8,478.23 318.2,477.78 318.5,478.08 318.8,477.85 319.2,477.90 319.5,477.89 319.8,478.04 320.2,478.09 320.5,477.86 320.8,477.68 321.1,478.17 321.5,478.04 321.8,477.92 322.1,477.54 322.5,477.74 322.8,477.83 323.1,477.89 323.5,477.67 323.8,477.70 324.1,477.83 324.4,477.65 324.8,477.65 325.1,477.89 325.4,478.18 325.8,478.28 326.1,478.16 326.4,478.02 326.8,477.98 327.1,477.96 327.4,477.74 327.7,478.02 328.1,477.85 328.4,477.94 328.7,477.67 329.1,477.81 329.4,477.62 329.7,477.61 330.1,477.51 330.4,477.68 330.7,477.54 331.0,477.40 331.4,477.61 331.7,477.36 332.0,477.26 332.4,476.70 332.7,476.34 333.0,475.51 333.4,473.50 333.7,469.18 334.0,460.96 334.2,455.36 334.4,451.71 334.5,450.00 334.7,451.45 334.8,453.73 335.0,458.49 335.3,462.61 335.5,463.05 335.7,463.26 335.8,463.33 336.0,465.40 336.1,466.59 336.3,470.16 336.7,473.70 337.0,475.53 337.3,476.28 337.7,477.21 338.0,477.27 338.3,477.50 338.6,477.84 339.0,477.82 339.3,477.87 339.6,478.07 340.0,478.00 340.3,478.06 340.6,477.79 341.0,477.94 341.3,477.65 341.6,478.09 341.9,478.26 342.3,478.01 342.6,477.95 342.9,477.73 343.3,477.61 343.6,478.06 343.9,478.12 344.3,478.52 344.6,478.38 344.9,478.21 345.2,478.41 345.6,478.30 345.9,478.11 346.2,478.28 346.6,478.40 346.9,478.35 347.2,478.08 347.6,477.98 347.9,477.90 348.2,477.96 348.5,477.76 348.9,478.17 349.2,478.23 349.5,478.42 349.9,478.12 350.2,478.43 350.5,478.28 350.9,478.32 351.2,478.26 351.5,478.03 351.8,478.06 352.2,478.53 352.5,478.51 352.8,478.38 353.2,478.55 353.5,478.19 353.8,478.11 354.2,478.16 354.5,478.47 354.8,478.45 355.1,478.66 355.5,478.74 355.8,478.54 356.1,478.50 356.5,478.53 356.8,478.44"/>
</g>
<g id="markers"><polygon points="110.90,101.10 111.82,103.08 113.80,104.00 111.82,104.92 110.90,106.90 109.98,104.92 108.00,104.00 109.98,103.08" fill="#000"/><polygon points="108.30,117.39 113.50,117.39 110.90,112.61" fill="#000"/><polygon points="136.30,75.30 137.22,77.28 139.20,78.20 137.22,79.12 136.30,81.10 135.38,79.12 133.40,78.20 135.38,77.28" fill="#000"/><polygon points="133.70,91.39 138.90,91.39 136.30,86.61" fill="#000"/><circle cx="174.75" cy="27.40" r="2.05" fill="#000"/><polygon points="198.90,120.99 204.10,120.99 201.50,116.21" fill="#000"/><circle cx="207.40" cy="89.60" r="2.05" fill="#000"/><polygon points="220.40,120.99 225.60,120.99 223.00,116.21" fill="#000"/><polygon points="237.40,102.30 238.32,104.28 240.30,105.20 238.32,106.12 237.40,108.10 236.48,106.12 234.50,105.20 236.48,104.28" fill="#000"/><polygon points="234.80,116.59 240.00,116.59 237.40,111.81" fill="#000"/><polygon points="248.20,110.30 249.12,112.28 251.10,113.20 249.12,114.12 248.20,116.10 247.28,114.12 245.30,113.20 247.28,112.28" fill="#000"/><circle cx="255.50" cy="112.90" r="1.95" fill="none" stroke="#333" stroke-width="0.75"/><polygon points="262.43,77.91 266.57,77.91 264.50,81.49" fill="none" stroke="#000" stroke-width="0.85" stroke-linejoin="miter"/><polygon points="264.50,87.37 266.56,90.40 264.50,93.43 262.44,90.40" fill="none" stroke="#000" stroke-width="0.85"/><polygon points="264.50,96.80 265.42,98.78 267.40,99.70 265.42,100.62 264.50,102.60 263.58,100.62 261.60,99.70 263.58,98.78" fill="#000"/><polygon points="262.20,110.69 267.40,110.69 264.80,105.91" fill="#000"/><polygon points="283.60,115.99 288.80,115.99 286.20,111.21" fill="#000"/><circle cx="320.00" cy="63.10" r="2.05" fill="#000"/><polygon points="338.80,119.29 344.00,119.29 341.40,114.51" fill="#000"/><polygon points="97.30,393.99 99.28,397.00 97.30,400.01 95.32,397.00" fill="none" stroke="#000" stroke-width="0.8"/><polygon points="108.10,396.80 109.02,398.68 110.90,399.60 109.02,400.52 108.10,402.40 107.18,400.52 105.30,399.60 107.18,398.68" fill="#000"/><polygon points="122.50,396.10 128.70,396.10 125.60,400.30" fill="#000"/><ellipse cx="135.30" cy="385.30" rx="2.50" ry="2.00" fill="#fff" stroke="#222" stroke-width="0.6"/><path d="M135.50,383.00 A2.8,2.3 0 0 0 135.50,387.60 Z" fill="#000"/><polygon points="135.30,391.90 137.90,394.50 135.30,397.10 132.70,394.50" fill="#000"/><polygon points="141.03,397.41 145.78,397.41 143.40,401.19" fill="none" stroke="#000" stroke-width="0.85" stroke-linejoin="miter"/><ellipse cx="176.2" cy="294.5" rx="2.4" ry="2.0" fill="#000"/><ellipse cx="212.5" cy="374.6" rx="2.4" ry="2.0" fill="#000"/><ellipse cx="244.50" cy="396.50" rx="2.50" ry="2.00" fill="#fff" stroke="#222" stroke-width="0.6"/><path d="M244.70,394.20 A2.8,2.3 0 0 0 244.70,398.80 Z" fill="#000"/><polygon points="253.70,395.40 259.30,395.40 256.50,390.60" fill="#000"/><ellipse cx="273.60" cy="383.10" rx="2.50" ry="2.00" fill="#fff" stroke="#222" stroke-width="0.6"/><path d="M273.80,380.80 A2.8,2.3 0 0 0 273.80,385.40 Z" fill="#000"/><polygon points="273.60,391.69 275.58,394.70 273.60,397.71 271.62,394.70" fill="none" stroke="#000" stroke-width="0.8"/><ellipse cx="334.5" cy="383.5" rx="2.4" ry="2.0" fill="#000"/></g>
<g id="frames" fill="none" stroke="#111" stroke-width="1.3" stroke-linecap="square">
<line x1="35.5" y1="5.9" x2="35.5" y2="234.3"/>
<line x1="346.0" y1="5.9" x2="346.0" y2="234.3"/>
<line x1="35.5" y1="234.3" x2="346.0" y2="234.3"/>
<line x1="35.5" y1="5.95" x2="346.0" y2="5.95" stroke="#3a3a3a" stroke-width="1.15"/>
<line x1="25.55" y1="287.4" x2="25.55" y2="516.1" stroke-width="1.25"/>
<line x1="357.3" y1="287.4" x2="357.3" y2="516.1" stroke-width="1.25"/>
<line x1="25.55" y1="287.4" x2="357.3" y2="287.4" stroke-width="1.25"/>
<line x1="25.55" y1="516.1" x2="357.3" y2="516.1" stroke-width="1.25"/>
</g>
<g stroke="#111" stroke-width="1.1"><line x1="40.18" y1="234.3" x2="40.18" y2="232.10"/><line x1="63.70" y1="234.3" x2="63.70" y2="230.10"/><line x1="87.22" y1="234.3" x2="87.22" y2="232.10"/><line x1="110.75" y1="234.3" x2="110.75" y2="230.10"/><line x1="134.28" y1="234.3" x2="134.28" y2="232.10"/><line x1="157.80" y1="234.3" x2="157.80" y2="230.10"/><line x1="181.32" y1="234.3" x2="181.32" y2="232.10"/><line x1="204.85" y1="234.3" x2="204.85" y2="230.10"/><line x1="228.38" y1="234.3" x2="228.38" y2="232.10"/><line x1="251.90" y1="234.3" x2="251.90" y2="230.10"/><line x1="275.43" y1="234.3" x2="275.43" y2="232.10"/><line x1="298.95" y1="234.3" x2="298.95" y2="230.10"/><line x1="322.47" y1="234.3" x2="322.47" y2="232.10"/><line x1="346.00" y1="234.3" x2="346.00" y2="230.10"/><line x1="30.57" y1="516.1" x2="30.57" y2="513.90"/><line x1="55.70" y1="516.1" x2="55.70" y2="511.90"/><line x1="80.84" y1="516.1" x2="80.84" y2="513.90"/><line x1="105.97" y1="516.1" x2="105.97" y2="511.90"/><line x1="131.11" y1="516.1" x2="131.11" y2="513.90"/><line x1="156.24" y1="516.1" x2="156.24" y2="511.90"/><line x1="181.38" y1="516.1" x2="181.38" y2="513.90"/><line x1="206.51" y1="516.1" x2="206.51" y2="511.90"/><line x1="231.64" y1="516.1" x2="231.64" y2="513.90"/><line x1="256.78" y1="516.1" x2="256.78" y2="511.90"/><line x1="281.92" y1="516.1" x2="281.92" y2="513.90"/><line x1="307.05" y1="516.1" x2="307.05" y2="511.90"/><line x1="332.19" y1="516.1" x2="332.19" y2="513.90"/><line x1="357.32" y1="516.1" x2="357.32" y2="511.90"/></g>
<text transform="translate(63.70,247.00) scale(1.1,1)" class="tk" text-anchor="middle">20</text><text transform="translate(55.70,528.80) scale(1.17,1)" class="tk" text-anchor="middle">20</text><text transform="translate(110.75,247.00) scale(1.1,1)" class="tk" text-anchor="middle">30</text><text transform="translate(105.97,528.80) scale(1.17,1)" class="tk" text-anchor="middle">30</text><text transform="translate(157.80,247.00) scale(1.1,1)" class="tk" text-anchor="middle">40</text><text transform="translate(156.24,528.80) scale(1.17,1)" class="tk" text-anchor="middle">40</text><text transform="translate(204.85,247.00) scale(1.1,1)" class="tk" text-anchor="middle">50</text><text transform="translate(206.51,528.80) scale(1.17,1)" class="tk" text-anchor="middle">50</text><text transform="translate(251.90,247.00) scale(1.1,1)" class="tk" text-anchor="middle">60</text><text transform="translate(256.78,528.80) scale(1.17,1)" class="tk" text-anchor="middle">60</text><text transform="translate(298.95,247.00) scale(1.1,1)" class="tk" text-anchor="middle">70</text><text transform="translate(307.05,528.80) scale(1.17,1)" class="tk" text-anchor="middle">70</text><text transform="translate(346.00,247.00) scale(1.1,1)" class="tk" text-anchor="middle">80</text><text transform="translate(357.32,528.80) scale(1.17,1)" class="tk" text-anchor="middle">80</text><text transform="translate(190.70,263.50) scale(1.06,1)" class="lab" text-anchor="middle">2 theat (degree)</text><text transform="translate(192.10,544.80) scale(1.13,1)" class="lab" text-anchor="middle">2 Theta (degree)</text><text class="lab" transform="translate(16.5,113.7) rotate(-90) scale(0.98,1)" text-anchor="middle">Intensity (a.u.)</text><text class="lab" transform="translate(8.9,401.0) rotate(-90) scale(0.975,0.9)" text-anchor="middle">Intensity (a.u.)</text><text transform="translate(301.60,25.00) scale(1.12,1)" class="pl">(a) 316</text><text transform="translate(308.50,305.40) scale(1.17,1)" class="pl">(b)&#160; 625</text><text transform="translate(37.90,124.60) scale(1.065,1)" class="cl">200 h</text><text transform="translate(37.60,147.60) scale(1.0,1)" class="cl">150 h</text><text transform="translate(37.90,171.60) scale(1.0,1)" class="cl">100 h</text><text transform="translate(40.20,192.80) scale(1.065,1)" class="cl">25 h</text><text transform="translate(27.90,409.30) scale(1.135,1)" class="cl">200 h</text><text transform="translate(27.00,430.70) scale(1.08,1)" class="cl">150 h</text><text transform="translate(27.00,455.30) scale(1.08,1)" class="cl">100 h</text><text transform="translate(30.00,480.00) scale(1.135,1)" class="cl">25 h</text>
<polygon points="40.45,11.04 44.75,11.04 42.60,15.56" fill="none" stroke="#000" stroke-width="0.9" stroke-linejoin="miter"/><text transform="translate(53.10,16.50) scale(1.11,1)" class="leg">NiO</text><polygon points="42.50,21.85 43.95,24.70 42.50,27.55 41.05,24.70" fill="none" stroke="#000" stroke-width="1.0"/><text transform="translate(53.10,27.30) scale(1.11,1)" class="leg">Cr<tspan class="sub" dx="0.35" dy="2.25">2</tspan><tspan dx="0.35" dy="-2.25">O</tspan><tspan class="sub" dx="0.35" dy="2.25">3</tspan></text><polygon points="43.30,35.10 44.11,36.89 45.90,37.70 44.11,38.51 43.30,40.30 42.49,38.51 40.70,37.70 42.49,36.89" fill="#000"/><text transform="translate(53.10,39.60) scale(1.11,1)" class="leg">Fe<tspan class="sub" dx="0.35" dy="2.25">3</tspan><tspan dx="0.35" dy="-2.25">O</tspan><tspan class="sub" dx="0.35" dy="2.25">4</tspan></text><polygon points="41.20,50.50 46.80,50.50 44.00,45.90" fill="#000"/><text transform="translate(53.10,51.60) scale(1.11,1)" class="leg">Fe<tspan class="sub" dx="0.35" dy="2.25">2</tspan><tspan dx="0.35" dy="-2.25">O</tspan><tspan class="sub" dx="0.35" dy="2.25">3</tspan></text><circle cx="44.10" cy="60.20" r="1.95" fill="none" stroke="#333" stroke-width="0.8"/><text transform="translate(53.10,64.40) scale(1.11,1)" class="leg">FeO</text><circle cx="43.90" cy="71.40" r="2.2" fill="#000"/><text transform="translate(53.10,75.40) scale(1.11,1)" class="leg">Matrix</text>
<ellipse cx="35.80" cy="294.30" rx="2.50" ry="1.65" fill="#fff" stroke="#222" stroke-width="0.6"/><path d="M36.00,292.35 A2.8,1.95 0 0 0 36.00,296.25 Z" fill="#000"/><text transform="translate(45.70,297.20) scale(1.18,1)" class="legb">NiCr<tspan class="sub" dx="0.35" dy="2.25">2</tspan><tspan dx="0.35" dy="-2.25">O</tspan><tspan class="sub" dx="0.35" dy="2.25">4</tspan></text><polygon points="34.90,305.85 35.93,307.27 37.35,308.30 35.93,309.33 34.90,310.75 33.87,309.33 32.45,308.30 33.87,307.27" fill="#000"/><text transform="translate(45.70,309.90) scale(1.18,1)" class="legb">CrPO<tspan class="sub" dx="0.35" dy="2.25">4</tspan></text><polygon points="30.60,317.05 37.00,317.05 33.80,321.55" fill="#000"/><text transform="translate(45.70,322.30) scale(1.18,1)" class="legb">Na<tspan class="sub" dx="0.35" dy="2.25">3</tspan><tspan dx="0.35" dy="-2.25">PO</tspan><tspan class="sub" dx="0.35" dy="2.25">4</tspan></text><polygon points="33.50,329.35 36.25,332.30 33.50,335.25 30.75,332.30" fill="#000"/><text transform="translate(45.70,334.70) scale(1.18,1)" class="legb">Ni<tspan class="sub" dx="0.35" dy="2.25">3</tspan><tspan dx="0.35" dy="-2.25">(PO</tspan><tspan class="sub" dx="0.35" dy="2.25">4</tspan><tspan dx="0.35" dy="-2.25">)</tspan><tspan class="sub" dx="0.35" dy="2.25">2</tspan></text><polygon points="31.10,345.20 36.30,345.20 33.70,341.00" fill="#000"/><text transform="translate(45.70,347.30) scale(1.18,1)" class="legb">Fe<tspan class="sub" dx="0.35" dy="2.25">2</tspan><tspan dx="0.35" dy="-2.25">O</tspan><tspan class="sub" dx="0.35" dy="2.25">3</tspan></text><polygon points="33.00,353.19 35.39,356.50 33.00,359.81 30.61,356.50" fill="none" stroke="#000" stroke-width="0.9"/><text transform="translate(45.70,359.90) scale(1.18,1)" class="legb">Cr<tspan class="sub" dx="0.35" dy="2.25">2</tspan><tspan dx="0.35" dy="-2.25">O</tspan><tspan class="sub" dx="0.35" dy="2.25">3</tspan></text><polygon points="29.98,368.05 35.23,368.05 32.60,373.15" fill="none" stroke="#000" stroke-width="0.75" stroke-linejoin="miter"/><text transform="translate(45.70,372.80) scale(1.18,1)" class="legb">NiO</text><ellipse cx="33.8" cy="381.9" rx="2.35" ry="1.95" fill="#000"/><text transform="translate(46.00,385.00) scale(1.13,1)" class="legs">Matrix</text>
</svg>
</body></html>
